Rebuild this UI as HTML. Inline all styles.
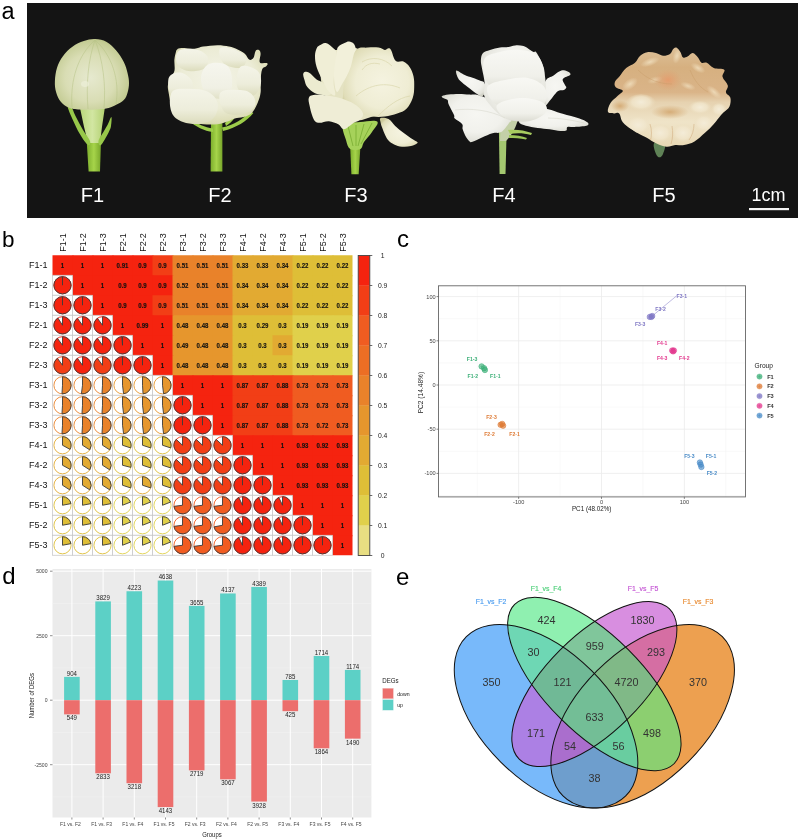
<!DOCTYPE html>
<html><head><meta charset="utf-8"><title>Figure</title>
<style>html,body{margin:0;padding:0;background:#fff;}svg{display:block;}</style></head>
<body><svg width="800" height="840" viewBox="0 0 800 840" font-family='"Liberation Sans", Arial, sans-serif'>
<rect width="800" height="840" fill="#fff"/>
<rect x="27" y="3" width="771" height="215" fill="#141414"/>

<defs>
<radialGradient id="gBud" cx="0.48" cy="0.55" r="0.62">
<stop offset="0" stop-color="#e6e9cf"/><stop offset="0.55" stop-color="#d9ddb4"/><stop offset="0.85" stop-color="#c4cc94"/><stop offset="1" stop-color="#a8b470"/>
</radialGradient>
<linearGradient id="gStem" x1="0" y1="0" x2="1" y2="0">
<stop offset="0" stop-color="#7cae2c"/><stop offset="0.5" stop-color="#a6d44a"/><stop offset="1" stop-color="#78a62a"/>
</linearGradient>
<linearGradient id="gNeck" x1="0" y1="0" x2="1" y2="0">
<stop offset="0" stop-color="#b8d67a"/><stop offset="0.5" stop-color="#d2e6a2"/><stop offset="1" stop-color="#b2d070"/>
</linearGradient>
<radialGradient id="gF2" cx="0.5" cy="0.42" r="0.62">
<stop offset="0" stop-color="#f3f3e6"/><stop offset="0.6" stop-color="#ececd6"/><stop offset="0.9" stop-color="#dcdcb4"/><stop offset="1" stop-color="#c8c896"/>
</radialGradient>
<linearGradient id="gPet" x1="0" y1="0" x2="0" y2="1">
<stop offset="0" stop-color="#f4f4e8"/><stop offset="0.6" stop-color="#ededdb"/><stop offset="1" stop-color="#dcdcbc"/>
</linearGradient>
<linearGradient id="gPet2" x1="0" y1="0" x2="0" y2="1">
<stop offset="0" stop-color="#f6f6ee"/><stop offset="0.7" stop-color="#f0f0e4"/><stop offset="1" stop-color="#e2e2c8"/>
</linearGradient>
<linearGradient id="gPetW" x1="0" y1="0" x2="0" y2="1">
<stop offset="0" stop-color="#f8f8f4"/><stop offset="0.65" stop-color="#f0f0ea"/><stop offset="1" stop-color="#dcdcd2"/>
</linearGradient>
<radialGradient id="gF3" cx="0.55" cy="0.5" r="0.62">
<stop offset="0" stop-color="#f5f3e0"/><stop offset="0.6" stop-color="#efedd4"/><stop offset="0.9" stop-color="#e0ddb8"/><stop offset="1" stop-color="#ccc99a"/>
</radialGradient>
<radialGradient id="gF4" cx="0.5" cy="0.42" r="0.62">
<stop offset="0" stop-color="#f6f6f2"/><stop offset="0.6" stop-color="#f1f1ec"/><stop offset="0.9" stop-color="#e2e2da"/><stop offset="1" stop-color="#cfcfc4"/>
</radialGradient>
<linearGradient id="gF5" x1="0" y1="0" x2="0" y2="1">
<stop offset="0" stop-color="#dcc098"/><stop offset="0.2" stop-color="#d6b080"/><stop offset="0.45" stop-color="#dab488"/><stop offset="0.55" stop-color="#e6d2b0"/><stop offset="0.75" stop-color="#efe4c8"/><stop offset="1" stop-color="#e8d8b4"/>
</linearGradient>
<radialGradient id="gHi" cx="0.5" cy="0.5" r="0.5">
<stop offset="0" stop-color="#f2e2c2" stop-opacity="1"/><stop offset="1" stop-color="#f2e2c2" stop-opacity="0"/>
</radialGradient>
<radialGradient id="gCream" cx="0.5" cy="0.45" r="0.5">
<stop offset="0" stop-color="#f4ecd8" stop-opacity="1"/><stop offset="0.6" stop-color="#f1e6cc" stop-opacity="0.8"/><stop offset="1" stop-color="#eadcbc" stop-opacity="0"/>
</radialGradient>
<radialGradient id="gTan" cx="0.5" cy="0.5" r="0.5">
<stop offset="0" stop-color="#d4aa74" stop-opacity="0.95"/><stop offset="1" stop-color="#d4aa74" stop-opacity="0"/>
</radialGradient>
<radialGradient id="gF5c" cx="0.5" cy="0.5" r="0.5">
<stop offset="0" stop-color="#e89868" stop-opacity="0.8"/><stop offset="1" stop-color="#e0a070" stop-opacity="0"/>
</radialGradient>
</defs>
<!-- F1 -->
<path d="M86.7,141.0 L101.0,141.0 L100.0,171.4 L88.6,171.4 Z" fill="url(#gStem)"/>
<path d="M80.0,108.0 L104.8,108.0 L102.0,126.7 L100.0,143.0 L88.0,143.0 L84.0,126.7 Z" fill="url(#gNeck)"/>
<path d="M67.6,106.6 C67.9,108.9 70.2,114.0 72.4,119.0 C74.6,124.0 77.2,129.6 80.0,134.3 C82.8,139.0 86.2,143.8 88.0,145.0 C89.8,146.2 90.9,143.7 90.0,141.0 C89.1,138.3 85.5,134.3 83.0,130.0 C80.5,125.7 78.2,121.3 76.0,117.0 C73.8,112.7 72.5,107.9 71.0,106.0 C69.5,104.1 67.3,104.3 67.6,106.6 Z" fill="#98c84a"/>
<path d="M111.4,117.0 C111.9,117.4 111.5,123.2 111.0,126.0 C110.5,128.8 110.4,129.0 108.6,132.4 C106.8,135.8 102.8,143.5 101.0,145.0 C99.2,146.5 98.0,143.5 98.5,141.0 C99.0,138.5 102.3,134.1 104.0,131.0 C105.7,127.9 106.7,126.5 108.0,124.0 C109.3,121.5 110.9,116.6 111.4,117.0 Z" fill="#98c84a"/>
<path d="M95.2,39.0 C99.3,39.2 102.9,39.8 106.7,41.9 C110.5,44.0 113.1,46.9 116.2,50.5 C119.3,54.1 121.7,57.8 123.8,61.9 C125.9,66.0 126.7,69.5 127.6,73.3 C128.5,77.1 129.0,79.5 129.0,82.9 C129.0,86.3 128.5,89.3 127.6,92.4 C126.7,95.5 125.9,97.8 123.8,100.0 C121.7,102.2 118.9,103.4 116.2,104.8 C113.5,106.2 112.0,107.2 108.6,108.0 C105.2,108.8 102.6,109.2 97.1,109.5 C91.6,109.8 83.2,109.8 78.1,109.5 C73.0,109.2 71.7,109.0 68.6,107.6 C65.5,106.2 63.2,104.6 61.0,101.9 C58.8,99.2 57.3,96.2 56.2,92.4 C55.1,88.6 54.7,85.5 54.9,81.0 C55.1,76.5 55.7,72.1 57.1,67.6 C58.5,63.1 60.1,60.0 62.9,56.2 C65.7,52.4 68.6,49.4 72.4,46.7 C76.2,44.0 79.7,42.4 83.8,41.0 C87.9,39.6 91.1,38.8 95.2,39.0 Z" fill="url(#gBud)"/>
<g fill="none" stroke="#b4c184" stroke-width="0.7" opacity="0.7">
<path d="M95,40 C88,60 86,85 88,109"/><path d="M95,40 C103,60 106,85 104,108"/>
<path d="M95,40 C78,55 70,80 72,107"/><path d="M95,40 C112,55 120,80 116,104"/>
</g>
<ellipse cx="85" cy="84" rx="4" ry="3" fill="#edf0d8" opacity="0.7"/>
<!-- F2 -->
<path d="M211.0,122.0 L222.4,122.0 L222.4,171.4 L210.6,171.4 Z" fill="url(#gStem)"/>
<path d="M188,120 C196,127 204,131 213,132 L213,128.5 C205,127.5 197,124 191,118 Z" fill="#9ccc4a"/>
<path d="M253.4,113 C247,121 236,128 223,131 L222,127.5 C234,125 244,119 250,111 Z" fill="#9ccc4a"/>
<path d="M237.6,110 C236,118 232,122 226,126 L225,123 C229,120 233,116 235,109 Z" fill="#a4d050"/>
<path d="M177.2,49.5 C178.2,48.7 178.5,48.2 181.6,48.1 C184.7,48.0 190.6,49.1 194.5,48.8 C198.4,48.5 199.0,47.2 203.1,46.6 C207.2,46.0 212.8,45.2 217.5,45.2 C222.2,45.2 225.4,45.8 229.0,46.6 C232.6,47.4 234.8,48.2 237.6,49.5 C240.4,50.8 242.7,52.0 244.8,53.8 C246.9,55.6 247.6,58.8 249.1,59.6 C250.6,60.4 252.2,59.7 253.4,58.1 C254.6,56.5 254.6,52.3 255.6,50.9 C256.6,49.5 258.3,49.7 259.2,50.2 C260.1,50.7 260.5,51.6 260.6,53.8 C260.7,56.0 258.7,60.7 259.9,62.4 C261.1,64.1 265.9,62.6 267.1,63.2 C268.3,63.8 267.3,64.8 266.4,66.0 C265.5,67.2 263.1,66.9 262.1,69.6 C261.1,72.3 260.9,77.0 260.6,81.1 C260.3,85.2 261.1,88.7 260.6,92.6 C260.1,96.5 259.2,99.1 257.7,102.7 C256.2,106.3 254.6,110.1 252.0,112.7 C249.4,115.3 246.5,116.1 243.4,117.1 C240.3,118.1 237.5,117.7 234.7,118.5 C231.9,119.3 230.7,120.4 227.6,121.4 C224.5,122.4 221.9,123.7 217.5,124.2 C213.1,124.7 208.3,124.7 203.1,124.2 C197.9,123.7 193.4,122.9 188.7,121.4 C184.0,119.9 180.3,117.9 177.2,115.6 C174.1,113.3 172.8,111.0 171.5,108.4 C170.2,105.8 170.6,104.0 170.1,101.2 C169.6,98.4 169.0,95.4 168.6,92.6 C168.2,89.8 167.6,88.0 167.9,85.4 C168.2,82.8 168.9,80.8 170.1,78.2 C171.3,75.6 173.6,74.4 174.4,71.1 C175.2,67.8 174.1,63.0 174.4,59.6 C174.7,56.2 175.3,54.2 175.8,52.4 C176.3,50.6 176.2,50.3 177.2,49.5 Z" fill="url(#gF2)"/>
<g fill="url(#gPet)">
<path d="M178.7,50.9 C182.1,48.3 190.7,48.5 195.9,49.5 C201.1,50.5 205.8,53.4 207.4,56.7 C209.0,60.0 208.4,65.4 205.0,68.0 C201.6,70.6 193.7,71.7 188.7,71.0 C183.7,70.3 179.0,67.5 177.2,63.9 C175.4,60.3 175.3,53.5 178.7,50.9 Z"/>
<path d="M220.4,48.1 C223.0,45.9 233.0,48.8 237.6,50.9 C242.2,53.0 245.8,56.5 246.2,59.6 C246.6,62.7 244.1,67.4 240.0,68.0 C235.9,68.6 226.7,66.6 223.2,63.0 C219.7,59.4 217.8,50.3 220.4,48.1 Z"/>
<path d="M168.6,78.2 C169.9,73.8 175.9,72.0 180.1,72.5 C184.3,73.0 190.2,77.0 192.0,81.1 C193.8,85.1 193.4,92.1 190.0,95.0 C186.6,97.9 176.8,100.0 172.9,97.0 C169.0,94.0 167.3,82.6 168.6,78.2 Z"/>
<path d="M240.5,66.7 C244.1,63.7 254.1,67.7 257.7,71.1 C261.3,74.5 261.6,80.9 260.6,85.4 C259.6,89.9 256.1,95.5 252.0,96.0 C247.9,96.5 239.7,93.3 237.6,88.0 C235.5,82.7 236.9,69.7 240.5,66.7 Z"/>
<path d="M209.0,64.0 C213.8,61.8 223.5,62.1 227.6,66.0 C231.7,69.9 232.6,79.6 232.0,85.4 C231.4,91.2 228.4,96.3 224.0,98.0 C219.6,99.7 211.5,98.6 207.4,95.0 C203.3,91.4 200.7,83.6 201.0,78.0 C201.3,72.4 204.2,66.2 209.0,64.0 Z" fill="url(#gPet2)"/>
<path d="M220.4,92.6 C223.2,88.6 234.8,89.7 240.5,90.0 C246.2,90.3 249.4,91.7 252.0,94.5 C254.6,97.3 256.4,102.1 255.0,105.6 C253.6,109.1 249.5,112.8 244.0,114.0 C238.5,115.2 228.9,115.9 224.7,112.0 C220.5,108.1 217.6,96.6 220.4,92.6 Z"/>
<path d="M172.0,92.0 C175.1,87.8 182.3,88.8 188.7,88.7 C195.1,88.6 202.2,89.1 207.4,91.6 C212.6,94.1 216.2,98.2 217.5,102.7 C218.8,107.2 217.2,112.9 214.6,116.6 C212.0,120.3 208.8,122.4 203.1,123.4 C197.4,124.4 188.7,124.0 183.0,121.9 C177.3,119.8 173.5,117.3 171.5,111.9 C169.5,106.5 168.9,96.2 172.0,92.0 Z"/>
</g>
<!-- F3 -->
<path d="M350.2,147.0 L360.4,147.0 L358.7,174.2 L351.4,174.2 Z" fill="url(#gStem)"/>
<path d="M343.5,125.0 C346.0,121.8 353.9,122.6 360.0,122.0 C366.1,121.4 375.1,119.7 377.2,121.5 C379.4,123.3 374.4,128.3 372.0,132.0 C369.6,135.7 366.1,138.9 364.0,142.0 C361.9,145.1 362.9,147.7 360.4,149.0 C357.9,150.3 352.8,150.6 350.2,149.0 C347.7,147.4 347.2,144.3 346.0,140.0 C344.8,135.7 341.0,128.2 343.5,125.0 Z" fill="#a6d25a"/>
<g stroke="#76aa30" stroke-width="0.9" fill="none" opacity="0.85"><path d="M348,126 L353,146"/><path d="M356,125 L356,146"/><path d="M364,124 L358,146"/><path d="M372,123 L361,144"/></g>
<path d="M380.6,118.0 C382.0,117.4 385.9,117.7 388.5,119.1 C391.1,120.5 392.6,123.5 395.2,125.9 C397.9,128.3 400.3,130.4 403.1,132.6 C405.9,134.8 408.6,136.6 411.0,138.2 C413.4,139.9 415.5,140.7 416.6,141.6 C417.7,142.5 418.2,142.5 417.2,143.3 C416.2,144.1 413.7,145.5 411.0,146.1 C408.3,146.7 405.0,147.0 402.0,146.7 C399.0,146.4 396.5,145.5 394.1,144.4 C391.7,143.3 390.1,142.2 388.5,140.5 C386.9,138.8 386.2,137.1 385.1,134.9 C384.0,132.7 383.1,130.3 382.3,128.1 C381.5,125.9 380.9,124.3 380.6,122.5 C380.3,120.7 379.2,118.6 380.6,118.0 Z" fill="url(#gF3)"/>
<path d="M320.0,70.0 L326.0,52.0 L336.0,50.0 L356.0,48.0 L380.0,60.0 L386.0,112.0 L362.0,120.0 L346.0,122.0 L330.0,104.0 L322.0,90.0 Z" fill="#e4e2c2"/>
<path d="M303.4,73.2 C304.2,71.8 306.4,71.3 308.8,72.4 C311.2,73.5 314.1,77.6 316.6,79.4 C319.1,81.2 320.6,80.8 322.8,82.5 C325.0,84.2 327.5,86.8 329.0,88.7 C330.5,90.6 331.0,91.9 331.0,93.0 C331.0,94.1 330.5,94.6 329.0,94.9 C327.5,95.2 325.3,95.2 322.8,94.9 C320.3,94.6 317.8,94.7 315.0,93.3 C312.2,91.9 309.2,89.5 307.3,87.1 C305.4,84.7 305.2,82.5 304.5,80.0 C303.8,77.5 302.6,74.6 303.4,73.2 Z" fill="#ecebd0"/>
<path d="M315.0,56.1 C315.0,52.8 315.8,50.3 316.6,48.4 C317.4,46.5 318.0,46.3 319.7,45.3 C321.4,44.3 323.4,42.4 325.9,43.0 C328.4,43.6 331.7,46.6 333.6,48.4 C335.5,50.2 336.4,49.7 336.7,53.0 C337.0,56.3 335.8,61.7 335.2,67.0 C334.6,72.3 333.6,77.5 333.6,82.5 C333.6,87.5 336.0,93.2 335.2,94.9 C334.4,96.6 331.2,94.3 329.0,91.8 C326.8,89.3 325.0,85.5 322.8,81.0 C320.6,76.5 318.0,71.5 316.6,67.0 C315.2,62.5 315.0,59.4 315.0,56.1 Z" fill="#f0eed6"/>
<path d="M336.7,53.0 C337.5,47.9 336.9,48.6 338.3,46.8 C339.7,45.0 342.6,44.0 344.5,43.0 C346.4,42.0 347.4,41.3 349.1,41.4 C350.8,41.5 352.5,42.2 353.8,43.7 C355.1,45.2 355.5,47.2 356.1,50.0 C356.7,52.8 357.9,55.6 356.9,59.2 C355.9,62.8 353.2,65.9 350.7,70.1 C348.2,74.3 345.5,78.6 343.0,82.5 C340.5,86.4 338.3,93.1 336.7,91.8 C335.1,90.5 334.0,82.0 334.0,75.0 C334.0,68.0 335.9,58.1 336.7,53.0 Z" fill="#f2f0da"/>
<path d="M356.1,50.0 C359.2,46.5 363.6,48.0 367.7,47.6 C371.8,47.2 375.5,47.2 378.6,47.6 C381.7,48.0 383.1,49.9 384.8,50.0 C386.5,50.1 386.8,48.4 387.9,48.4 C389.0,48.4 389.6,47.8 391.0,50.0 C392.4,52.2 393.4,58.7 395.6,60.8 C397.8,62.9 400.9,60.5 403.4,61.6 C405.9,62.7 407.8,64.4 409.6,67.0 C411.4,69.6 412.7,72.7 413.5,76.3 C414.3,79.9 414.3,83.2 414.2,87.1 C414.1,91.0 414.1,94.1 412.7,98.0 C411.3,101.9 409.3,106.0 406.5,108.8 C403.7,111.6 401.1,112.1 397.2,113.5 C393.3,114.9 389.3,116.0 384.8,116.6 C380.3,117.2 376.9,117.2 372.4,116.6 C367.9,116.0 365.0,115.5 360.0,113.5 C355.0,111.5 347.6,109.0 344.5,105.7 C341.4,102.4 343.0,99.1 343.0,94.9 C343.0,90.7 343.1,87.5 344.5,82.5 C345.9,77.5 348.6,72.8 350.7,67.0 C352.8,61.1 353.0,53.5 356.1,50.0 Z" fill="url(#gF3)"/>
<path d="M308.8,98.0 C309.5,96.1 309.9,95.3 313.5,94.9 C317.1,94.5 323.4,94.9 329.0,95.7 C334.6,96.5 339.5,97.7 344.5,99.5 C349.5,101.3 353.6,103.2 356.9,105.7 C360.2,108.2 362.5,111.0 363.1,113.5 C363.7,116.0 361.7,118.0 360.0,119.7 C358.3,121.4 356.0,121.4 353.8,122.8 C351.6,124.2 349.5,126.3 347.6,127.4 C345.7,128.5 344.7,129.6 343.0,129.0 C341.3,128.4 340.8,125.7 338.3,124.3 C335.8,122.9 332.3,121.5 329.0,121.2 C325.7,120.9 322.2,122.8 319.7,122.8 C317.2,122.8 316.4,122.6 315.0,121.2 C313.6,119.8 313.0,117.8 312.0,115.0 C311.0,112.2 310.2,108.8 309.6,105.7 C309.0,102.6 308.1,99.9 308.8,98.0 Z" fill="#efedd6"/>
<g fill="none" stroke="#d8d4a8" stroke-width="0.8" opacity="0.8">
<path d="M356,96 C370,84 386,82 400,88"/><path d="M362,62 C372,56 384,58 392,66"/><path d="M378,116 C388,106 398,98 410,96"/>
<path d="M362,70 C366,64 372,62 380,64"/>
</g>
<!-- F4 -->
<path d="M498.7,118.0 L507.0,118.0 L505.5,174.0 L499.6,174.0 Z" fill="#a4c870"/>
<path d="M503,116 L518,119 C516,128 511,136 506,141 L500,141 C500,132 501,124 503,116 Z" fill="#c4d0a8"/>
<path d="M508,130 C515,129 524,130 532,133 L531,135 C524,133 516,133 510,134 Z" fill="#a8cc60"/>
<path d="M509,135 C516,135 522,136 527,138 L526,139.5 C520,138 514,138 509,138 Z" fill="#9cc458"/>
<path d="M442.2,96.1 C443.2,95.5 445.5,95.0 448.5,94.6 C451.5,94.2 455.1,94.0 458.9,94.0 C462.7,94.0 466.0,94.4 469.4,94.6 C472.8,94.8 474.1,94.1 477.8,95.1 C481.5,96.1 485.1,97.3 490.0,100.0 C494.9,102.7 501.2,106.5 505.0,110.0 C508.8,113.5 510.5,117.4 511.3,119.7 C512.1,122.0 510.1,121.5 509.2,122.8 C508.3,124.1 507.6,125.3 506.1,127.0 C504.6,128.7 503.2,131.2 500.8,132.3 C498.4,133.4 495.9,132.4 492.5,133.3 C489.1,134.2 485.6,136.0 482.0,137.5 C478.4,139.0 474.9,141.0 472.6,141.7 C470.3,142.4 470.7,142.3 469.4,141.2 C468.1,140.1 466.4,137.6 465.2,135.4 C464.0,133.2 463.2,131.2 462.6,129.1 C462.0,127.0 463.5,125.8 462.1,123.9 C460.7,122.0 456.2,120.1 454.8,118.6 C453.4,117.1 454.8,117.0 454.2,115.5 C453.6,114.0 452.6,112.4 451.6,110.3 C450.6,108.2 449.3,105.9 448.5,104.0 C447.7,102.1 448.4,100.9 447.4,99.8 C446.4,98.7 443.6,98.4 442.7,97.7 C441.8,97.0 441.2,96.7 442.2,96.1 Z" fill="url(#gF4)"/>
<path d="M456.3,70.5 C457.4,69.9 461.3,73.4 464.2,74.7 C467.1,76.0 469.6,76.7 472.6,77.8 C475.6,78.9 478.8,80.1 480.9,80.9 C483.0,81.7 483.2,80.9 484.1,82.5 C485.0,84.1 486.4,87.5 486.0,90.0 C485.6,92.5 483.5,95.8 482.0,96.6 C480.5,97.4 480.1,96.1 477.8,94.6 C475.5,93.1 472.2,90.5 469.4,88.3 C466.6,86.1 464.2,84.4 462.1,82.5 C460.0,80.6 458.9,80.0 457.9,77.8 C456.9,75.6 455.2,71.1 456.3,70.5 Z" fill="url(#gF4)"/>
<path d="M547.3,109.0 C550.1,109.6 552.8,110.5 555.6,111.4 C558.4,112.3 559.9,113.0 562.7,113.8 C565.5,114.6 568.1,115.3 571.1,116.1 C574.1,116.9 576.8,117.6 579.4,118.5 C582.0,119.4 583.7,120.0 585.3,120.9 C586.9,121.8 588.1,122.4 588.3,123.3 C588.5,124.2 589.0,125.1 586.5,125.7 C584.0,126.3 578.0,126.7 574.6,126.9 C571.2,127.1 569.0,126.3 567.5,126.9 C566.0,127.5 567.6,129.7 566.3,130.4 C565.0,131.1 563.3,131.2 560.3,131.0 C557.3,130.8 553.7,129.7 549.6,129.2 C545.5,128.7 542.0,128.6 537.7,128.0 C533.4,127.4 529.0,126.5 525.8,125.7 C522.6,124.9 521.2,124.2 519.9,123.3 C518.6,122.4 519.6,121.5 518.7,120.9 C517.8,120.3 513.1,121.3 515.1,119.7 C517.1,118.1 525.5,114.1 530.0,112.0 C534.5,109.9 536.9,108.5 540.0,108.0 C543.1,107.5 544.5,108.4 547.3,109.0 Z" fill="url(#gF4)"/>
<path d="M545.5,81.0 C547.9,76.6 550.7,77.4 553.2,75.7 C555.7,74.0 557.3,72.5 559.2,71.5 C561.1,70.5 562.2,70.2 563.9,70.3 C565.6,70.4 567.5,71.3 568.7,72.1 C569.9,72.9 570.7,73.7 570.5,74.5 C570.3,75.3 568.7,75.7 567.5,76.3 C566.3,76.9 564.8,77.3 563.9,78.1 C563.0,78.9 562.5,79.2 562.7,80.5 C562.9,81.8 564.5,83.9 565.1,85.2 C565.7,86.5 566.5,86.7 566.3,87.6 C566.1,88.5 565.2,89.5 563.9,90.0 C562.6,90.5 560.7,90.0 559.2,90.6 C557.7,91.2 557.1,91.9 555.6,93.5 C554.1,95.1 552.5,97.4 550.8,99.5 C549.1,101.6 547.2,103.9 546.1,105.4 C545.0,106.9 546.0,108.8 544.9,107.8 C543.8,106.8 539.9,104.8 540.0,100.0 C540.1,95.2 543.1,85.4 545.5,81.0 Z" fill="url(#gF4)"/>
<path d="M480.9,60.0 C481.1,57.2 481.4,54.8 483.0,53.0 C484.6,51.2 486.9,51.0 490.0,50.0 C493.1,49.0 496.8,48.0 500.0,47.5 C503.2,47.0 505.3,47.5 508.0,47.1 C510.7,46.7 512.3,45.6 515.1,45.4 C517.9,45.2 520.9,45.3 523.5,46.0 C526.1,46.7 527.6,48.4 529.4,49.5 C531.2,50.6 532.4,51.5 533.6,51.9 C534.8,52.3 534.8,50.6 536.0,51.9 C537.2,53.2 538.7,56.2 540.1,59.0 C541.5,61.8 542.8,64.4 543.7,67.4 C544.6,70.4 544.6,73.3 544.9,75.7 C545.2,78.1 545.3,77.5 545.5,81.0 C545.7,84.5 546.1,90.2 546.0,95.0 C545.9,99.8 546.1,104.4 545.0,107.8 C543.9,111.2 542.7,112.0 540.0,114.0 C537.3,116.0 534.0,117.7 530.0,119.0 C526.0,120.3 521.4,120.8 518.0,121.0 C514.6,121.2 514.2,121.1 511.0,120.0 C507.8,118.9 503.8,117.7 500.0,115.0 C496.2,112.3 492.9,108.6 490.0,105.0 C487.1,101.4 485.0,99.0 484.0,95.0 C483.0,91.0 485.0,87.3 484.6,82.5 C484.2,77.7 482.7,72.5 482.0,68.4 C481.3,64.4 480.7,62.8 480.9,60.0 Z" fill="url(#gF4)"/>
<g fill="url(#gPetW)">
<path d="M484.0,60.0 C486.2,54.2 493.5,53.8 500.0,52.0 C506.5,50.2 513.2,49.3 520.0,50.0 C526.8,50.7 533.7,51.0 538.0,56.0 C542.3,61.0 545.4,72.2 544.0,78.0 C542.6,83.8 537.0,85.8 530.0,88.0 C523.0,90.2 512.6,90.7 505.0,90.0 C497.4,89.3 491.8,89.4 488.0,84.0 C484.2,78.6 481.8,65.8 484.0,60.0 Z"/>
<path d="M488.0,86.0 C490.7,82.8 497.8,81.4 505.0,80.0 C512.2,78.6 520.8,76.6 528.0,78.0 C535.2,79.4 542.1,83.3 545.0,88.0 C547.9,92.7 547.6,100.0 544.0,104.0 C540.4,108.0 532.9,109.6 525.0,110.0 C517.1,110.4 506.3,108.2 500.0,106.0 C493.7,103.8 492.2,101.6 490.0,98.0 C487.8,94.4 485.3,89.2 488.0,86.0 Z"/>
<path d="M498.0,104.0 C501.6,101.1 512.1,98.4 520.0,98.0 C527.9,97.6 537.3,99.5 542.0,102.0 C546.7,104.5 548.2,108.6 546.0,112.0 C543.8,115.4 536.5,119.6 530.0,121.0 C523.5,122.4 515.4,121.3 510.0,120.0 C504.6,118.7 502.2,116.9 500.0,114.0 C497.8,111.1 494.4,106.9 498.0,104.0 Z"/>
</g>
<g fill="none" stroke="#d8d8cc" stroke-width="0.7" opacity="0.8">
<path d="M455,110 C470,108 490,110 505,118"/><path d="M548,118 C560,118 572,120 584,123"/>
</g>
<!-- F5 -->
<path d="M654.2,143.0 C655.8,141.0 663.2,141.0 664.8,143.0 C666.4,145.0 664.0,151.4 663.0,154.0 C662.0,156.6 660.8,157.3 659.5,157.3 C658.2,157.3 657.0,156.6 656.0,154.0 C655.0,151.4 652.6,145.0 654.2,143.0 Z" fill="#5f8256"/>
<clipPath id="cF5"><path d="M607.9,111.8 C607.3,109.9 608.8,105.8 610.5,103.0 C612.2,100.2 615.3,98.2 617.5,96.0 C619.7,93.8 623.1,92.3 622.8,90.8 C622.5,89.2 617.2,88.8 615.8,87.2 C614.3,85.7 614.3,83.9 614.9,82.0 C615.5,80.1 617.2,79.3 619.2,76.8 C621.3,74.2 623.4,70.5 626.2,68.0 C629.1,65.5 632.5,65.0 635.0,62.8 C637.5,60.5 638.0,57.6 640.2,55.8 C642.5,53.9 644.4,52.7 647.2,52.2 C650.1,51.8 653.2,52.5 656.0,53.1 C658.8,53.7 660.5,55.6 663.0,55.8 C665.5,55.9 668.1,55.3 670.0,54.0 C671.9,52.7 672.2,49.8 673.5,48.8 C674.8,47.7 675.7,47.3 677.0,47.9 C678.3,48.5 679.4,50.5 680.5,52.2 C681.6,54.0 681.8,56.7 683.1,57.5 C684.4,58.3 685.8,57.4 687.5,56.6 C689.2,55.8 690.9,52.9 692.8,53.1 C694.6,53.3 696.4,55.8 698.0,57.5 C699.6,59.2 699.9,61.8 701.5,62.8 C703.1,63.7 704.5,61.8 706.8,62.8 C709.0,63.7 710.6,66.7 713.8,68.0 C716.9,69.3 722.7,68.2 724.2,69.8 C725.8,71.3 721.9,73.9 722.5,76.8 C723.1,79.6 727.1,82.7 727.8,85.5 C728.4,88.3 725.5,90.3 726.0,92.5 C726.5,94.7 729.8,95.2 730.4,97.8 C731.0,100.3 730.6,104.0 729.5,106.5 C728.4,109.0 725.8,110.2 724.2,111.8 C722.7,113.3 722.6,113.0 720.8,115.2 C718.9,117.5 716.6,120.8 713.8,124.0 C710.9,127.2 708.5,129.6 705.0,132.8 C701.5,135.9 698.3,139.3 694.5,141.5 C690.7,143.7 687.5,144.4 684.0,145.0 C680.5,145.6 678.4,144.7 675.2,145.0 C672.1,145.3 670.0,147.1 666.5,146.8 C663.0,146.4 659.5,144.8 656.0,143.2 C652.5,141.7 650.1,139.6 647.2,138.0 C644.4,136.4 643.1,136.1 640.2,134.5 C637.4,132.9 634.6,131.5 631.5,129.2 C628.4,127.0 625.0,125.1 622.8,122.2 C620.5,119.4 620.8,115.1 619.2,113.5 C617.7,111.9 616.0,113.8 614.0,113.5 C612.0,113.2 608.5,113.6 607.9,111.8 Z"/></clipPath>
<path d="M607.9,111.8 C607.3,109.9 608.8,105.8 610.5,103.0 C612.2,100.2 615.3,98.2 617.5,96.0 C619.7,93.8 623.1,92.3 622.8,90.8 C622.5,89.2 617.2,88.8 615.8,87.2 C614.3,85.7 614.3,83.9 614.9,82.0 C615.5,80.1 617.2,79.3 619.2,76.8 C621.3,74.2 623.4,70.5 626.2,68.0 C629.1,65.5 632.5,65.0 635.0,62.8 C637.5,60.5 638.0,57.6 640.2,55.8 C642.5,53.9 644.4,52.7 647.2,52.2 C650.1,51.8 653.2,52.5 656.0,53.1 C658.8,53.7 660.5,55.6 663.0,55.8 C665.5,55.9 668.1,55.3 670.0,54.0 C671.9,52.7 672.2,49.8 673.5,48.8 C674.8,47.7 675.7,47.3 677.0,47.9 C678.3,48.5 679.4,50.5 680.5,52.2 C681.6,54.0 681.8,56.7 683.1,57.5 C684.4,58.3 685.8,57.4 687.5,56.6 C689.2,55.8 690.9,52.9 692.8,53.1 C694.6,53.3 696.4,55.8 698.0,57.5 C699.6,59.2 699.9,61.8 701.5,62.8 C703.1,63.7 704.5,61.8 706.8,62.8 C709.0,63.7 710.6,66.7 713.8,68.0 C716.9,69.3 722.7,68.2 724.2,69.8 C725.8,71.3 721.9,73.9 722.5,76.8 C723.1,79.6 727.1,82.7 727.8,85.5 C728.4,88.3 725.5,90.3 726.0,92.5 C726.5,94.7 729.8,95.2 730.4,97.8 C731.0,100.3 730.6,104.0 729.5,106.5 C728.4,109.0 725.8,110.2 724.2,111.8 C722.7,113.3 722.6,113.0 720.8,115.2 C718.9,117.5 716.6,120.8 713.8,124.0 C710.9,127.2 708.5,129.6 705.0,132.8 C701.5,135.9 698.3,139.3 694.5,141.5 C690.7,143.7 687.5,144.4 684.0,145.0 C680.5,145.6 678.4,144.7 675.2,145.0 C672.1,145.3 670.0,147.1 666.5,146.8 C663.0,146.4 659.5,144.8 656.0,143.2 C652.5,141.7 650.1,139.6 647.2,138.0 C644.4,136.4 643.1,136.1 640.2,134.5 C637.4,132.9 634.6,131.5 631.5,129.2 C628.4,127.0 625.0,125.1 622.8,122.2 C620.5,119.4 620.8,115.1 619.2,113.5 C617.7,111.9 616.0,113.8 614.0,113.5 C612.0,113.2 608.5,113.6 607.9,111.8 Z" fill="url(#gF5)"/>
<g clip-path="url(#cF5)">
<ellipse cx="650" cy="62" rx="10" ry="4" transform="rotate(-20 650 62)" fill="url(#gHi)" opacity="0.8"/>
<ellipse cx="677" cy="56" rx="4" ry="8" transform="rotate(15 677 56)" fill="url(#gHi)" opacity="0.8"/>
<ellipse cx="698" cy="68" rx="8" ry="4" transform="rotate(30 698 68)" fill="url(#gHi)" opacity="0.8"/>
<ellipse cx="630" cy="84" rx="9" ry="5" transform="rotate(-35 630 84)" fill="url(#gHi)" opacity="0.8"/>
<ellipse cx="714" cy="92" rx="9" ry="4" transform="rotate(40 714 92)" fill="url(#gHi)" opacity="0.8"/>
<ellipse cx="688" cy="86" rx="8" ry="3.5" transform="rotate(20 688 86)" fill="url(#gHi)" opacity="0.7"/>
<ellipse cx="655" cy="80" rx="8" ry="3.5" transform="rotate(-15 655 80)" fill="url(#gHi)" opacity="0.6"/>
<ellipse cx="641" cy="103" rx="15" ry="9" fill="url(#gCream)"/>
<ellipse cx="620" cy="106" rx="9" ry="6" fill="url(#gTan)"/>
<ellipse cx="670" cy="112" rx="19" ry="7" fill="url(#gTan)"/>
<ellipse cx="700" cy="108" rx="12" ry="7" fill="url(#gCream)"/>
<ellipse cx="638" cy="126" rx="13" ry="10" fill="url(#gCream)"/>
<ellipse cx="660" cy="134" rx="13" ry="10" fill="url(#gCream)"/>
<ellipse cx="683" cy="134" rx="12" ry="10" fill="url(#gCream)"/>
<ellipse cx="704" cy="124" rx="11" ry="9" fill="url(#gCream)"/>
<ellipse cx="719" cy="110" rx="8" ry="7" fill="url(#gCream)"/>
</g>
<ellipse cx="668" cy="80" rx="14" ry="11" fill="url(#gF5c)"/>
</g>
<g fill="none" stroke="#c89c68" stroke-width="0.8" opacity="0.5" clip-path="url(#cF5)">
<path d="M650,124 C652,130 652,136 650,142"/><path d="M672,126 C673,132 673,138 671,144"/><path d="M694,124 C694,130 692,136 689,140"/>
<path d="M638,70 C648,80 660,84 672,84"/><path d="M690,70 C694,80 700,88 708,92"/>
</g>

<text x="1.6" y="18.8" font-size="23.5" fill="#000">a</text>
<text x="92.5" y="202.1" font-size="20" fill="#fff" text-anchor="middle">F1</text>
<text x="220" y="202.1" font-size="20" fill="#fff" text-anchor="middle">F2</text>
<text x="356" y="202.1" font-size="20" fill="#fff" text-anchor="middle">F3</text>
<text x="504" y="202.1" font-size="20" fill="#fff" text-anchor="middle">F4</text>
<text x="664" y="202.1" font-size="20" fill="#fff" text-anchor="middle">F5</text>
<text x="768.5" y="201" font-size="18" fill="#fff" text-anchor="middle">1cm</text>
<rect x="749" y="208" width="40" height="2.2" fill="#f4f4f4"/>
<text x="2" y="246.7" font-size="22.5" fill="#000">b</text>
<text x="47.5" y="268.45" font-size="9" fill="#111" text-anchor="end">F1-1</text>
<text transform="translate(65.70,251.7) rotate(-90)" font-size="9" fill="#111">F1-1</text>
<text x="47.5" y="288.45" font-size="9" fill="#111" text-anchor="end">F1-2</text>
<text transform="translate(85.70,251.7) rotate(-90)" font-size="9" fill="#111">F1-2</text>
<text x="47.5" y="308.45" font-size="9" fill="#111" text-anchor="end">F1-3</text>
<text transform="translate(105.70,251.7) rotate(-90)" font-size="9" fill="#111">F1-3</text>
<text x="47.5" y="328.45" font-size="9" fill="#111" text-anchor="end">F2-1</text>
<text transform="translate(125.70,251.7) rotate(-90)" font-size="9" fill="#111">F2-1</text>
<text x="47.5" y="348.45" font-size="9" fill="#111" text-anchor="end">F2-2</text>
<text transform="translate(145.70,251.7) rotate(-90)" font-size="9" fill="#111">F2-2</text>
<text x="47.5" y="368.45" font-size="9" fill="#111" text-anchor="end">F2-3</text>
<text transform="translate(165.70,251.7) rotate(-90)" font-size="9" fill="#111">F2-3</text>
<text x="47.5" y="388.45" font-size="9" fill="#111" text-anchor="end">F3-1</text>
<text transform="translate(185.70,251.7) rotate(-90)" font-size="9" fill="#111">F3-1</text>
<text x="47.5" y="408.45" font-size="9" fill="#111" text-anchor="end">F3-2</text>
<text transform="translate(205.70,251.7) rotate(-90)" font-size="9" fill="#111">F3-2</text>
<text x="47.5" y="428.45" font-size="9" fill="#111" text-anchor="end">F3-3</text>
<text transform="translate(225.70,251.7) rotate(-90)" font-size="9" fill="#111">F3-3</text>
<text x="47.5" y="448.45" font-size="9" fill="#111" text-anchor="end">F4-1</text>
<text transform="translate(245.70,251.7) rotate(-90)" font-size="9" fill="#111">F4-1</text>
<text x="47.5" y="468.45" font-size="9" fill="#111" text-anchor="end">F4-2</text>
<text transform="translate(265.70,251.7) rotate(-90)" font-size="9" fill="#111">F4-2</text>
<text x="47.5" y="488.45" font-size="9" fill="#111" text-anchor="end">F4-3</text>
<text transform="translate(285.70,251.7) rotate(-90)" font-size="9" fill="#111">F4-3</text>
<text x="47.5" y="508.45" font-size="9" fill="#111" text-anchor="end">F5-1</text>
<text transform="translate(305.70,251.7) rotate(-90)" font-size="9" fill="#111">F5-1</text>
<text x="47.5" y="528.45" font-size="9" fill="#111" text-anchor="end">F5-2</text>
<text transform="translate(325.70,251.7) rotate(-90)" font-size="9" fill="#111">F5-2</text>
<text x="47.5" y="548.45" font-size="9" fill="#111" text-anchor="end">F5-3</text>
<text transform="translate(345.70,251.7) rotate(-90)" font-size="9" fill="#111">F5-3</text>
<rect x="52.50" y="255.25" width="21.00" height="21.00" fill="rgb(245,35,15)"/>
<rect x="72.50" y="255.25" width="21.00" height="21.00" fill="rgb(245,35,15)"/>
<rect x="92.50" y="255.25" width="21.00" height="21.00" fill="rgb(245,35,15)"/>
<rect x="112.50" y="255.25" width="21.00" height="21.00" fill="rgb(245,35,15)"/>
<rect x="132.50" y="255.25" width="21.00" height="21.00" fill="rgb(245,35,15)"/>
<rect x="152.50" y="255.25" width="21.00" height="21.00" fill="rgb(242,62,22)"/>
<rect x="172.50" y="255.25" width="21.00" height="21.00" fill="rgb(233,130,42)"/>
<rect x="192.50" y="255.25" width="21.00" height="21.00" fill="rgb(233,130,42)"/>
<rect x="212.50" y="255.25" width="21.00" height="21.00" fill="rgb(233,130,42)"/>
<rect x="232.50" y="255.25" width="21.00" height="21.00" fill="rgb(226,170,50)"/>
<rect x="252.50" y="255.25" width="21.00" height="21.00" fill="rgb(226,170,50)"/>
<rect x="272.50" y="255.25" width="21.00" height="21.00" fill="rgb(226,170,50)"/>
<rect x="292.50" y="255.25" width="21.00" height="21.00" fill="rgb(222,190,55)"/>
<rect x="312.50" y="255.25" width="21.00" height="21.00" fill="rgb(222,190,55)"/>
<rect x="332.50" y="255.25" width="20.00" height="21.00" fill="rgb(222,190,55)"/>
<rect x="72.50" y="275.25" width="21.00" height="21.00" fill="rgb(245,35,15)"/>
<rect x="92.50" y="275.25" width="21.00" height="21.00" fill="rgb(245,35,15)"/>
<rect x="112.50" y="275.25" width="21.00" height="21.00" fill="rgb(245,35,15)"/>
<rect x="132.50" y="275.25" width="21.00" height="21.00" fill="rgb(245,35,15)"/>
<rect x="152.50" y="275.25" width="21.00" height="21.00" fill="rgb(245,35,15)"/>
<rect x="172.50" y="275.25" width="21.00" height="21.00" fill="rgb(233,130,42)"/>
<rect x="192.50" y="275.25" width="21.00" height="21.00" fill="rgb(233,130,42)"/>
<rect x="212.50" y="275.25" width="21.00" height="21.00" fill="rgb(233,130,42)"/>
<rect x="232.50" y="275.25" width="21.00" height="21.00" fill="rgb(226,170,50)"/>
<rect x="252.50" y="275.25" width="21.00" height="21.00" fill="rgb(226,170,50)"/>
<rect x="272.50" y="275.25" width="21.00" height="21.00" fill="rgb(226,170,50)"/>
<rect x="292.50" y="275.25" width="21.00" height="21.00" fill="rgb(222,190,55)"/>
<rect x="312.50" y="275.25" width="21.00" height="21.00" fill="rgb(222,190,55)"/>
<rect x="332.50" y="275.25" width="20.00" height="21.00" fill="rgb(222,190,55)"/>
<rect x="92.50" y="295.25" width="21.00" height="21.00" fill="rgb(245,35,15)"/>
<rect x="112.50" y="295.25" width="21.00" height="21.00" fill="rgb(245,35,15)"/>
<rect x="132.50" y="295.25" width="21.00" height="21.00" fill="rgb(245,35,15)"/>
<rect x="152.50" y="295.25" width="21.00" height="21.00" fill="rgb(242,62,22)"/>
<rect x="172.50" y="295.25" width="21.00" height="21.00" fill="rgb(233,130,42)"/>
<rect x="192.50" y="295.25" width="21.00" height="21.00" fill="rgb(233,130,42)"/>
<rect x="212.50" y="295.25" width="21.00" height="21.00" fill="rgb(233,130,42)"/>
<rect x="232.50" y="295.25" width="21.00" height="21.00" fill="rgb(226,170,50)"/>
<rect x="252.50" y="295.25" width="21.00" height="21.00" fill="rgb(226,170,50)"/>
<rect x="272.50" y="295.25" width="21.00" height="21.00" fill="rgb(226,170,50)"/>
<rect x="292.50" y="295.25" width="21.00" height="21.00" fill="rgb(222,190,55)"/>
<rect x="312.50" y="295.25" width="21.00" height="21.00" fill="rgb(222,190,55)"/>
<rect x="332.50" y="295.25" width="20.00" height="21.00" fill="rgb(222,190,55)"/>
<rect x="112.50" y="315.25" width="21.00" height="21.00" fill="rgb(245,35,15)"/>
<rect x="132.50" y="315.25" width="21.00" height="21.00" fill="rgb(245,35,15)"/>
<rect x="152.50" y="315.25" width="21.00" height="21.00" fill="rgb(245,35,15)"/>
<rect x="172.50" y="315.25" width="21.00" height="21.00" fill="rgb(230,150,45)"/>
<rect x="192.50" y="315.25" width="21.00" height="21.00" fill="rgb(230,150,45)"/>
<rect x="212.50" y="315.25" width="21.00" height="21.00" fill="rgb(230,150,45)"/>
<rect x="232.50" y="315.25" width="21.00" height="21.00" fill="rgb(222,190,55)"/>
<rect x="252.50" y="315.25" width="21.00" height="21.00" fill="rgb(222,190,55)"/>
<rect x="272.50" y="315.25" width="21.00" height="21.00" fill="rgb(222,190,55)"/>
<rect x="292.50" y="315.25" width="21.00" height="21.00" fill="rgb(224,208,75)"/>
<rect x="312.50" y="315.25" width="21.00" height="21.00" fill="rgb(224,208,75)"/>
<rect x="332.50" y="315.25" width="20.00" height="21.00" fill="rgb(224,208,75)"/>
<rect x="132.50" y="335.25" width="21.00" height="21.00" fill="rgb(245,35,15)"/>
<rect x="152.50" y="335.25" width="21.00" height="21.00" fill="rgb(245,35,15)"/>
<rect x="172.50" y="335.25" width="21.00" height="21.00" fill="rgb(230,150,45)"/>
<rect x="192.50" y="335.25" width="21.00" height="21.00" fill="rgb(230,150,45)"/>
<rect x="212.50" y="335.25" width="21.00" height="21.00" fill="rgb(230,150,45)"/>
<rect x="232.50" y="335.25" width="21.00" height="21.00" fill="rgb(222,190,55)"/>
<rect x="252.50" y="335.25" width="21.00" height="21.00" fill="rgb(222,190,55)"/>
<rect x="272.50" y="335.25" width="21.00" height="21.00" fill="rgb(226,170,50)"/>
<rect x="292.50" y="335.25" width="21.00" height="21.00" fill="rgb(224,208,75)"/>
<rect x="312.50" y="335.25" width="21.00" height="21.00" fill="rgb(224,208,75)"/>
<rect x="332.50" y="335.25" width="20.00" height="21.00" fill="rgb(224,208,75)"/>
<rect x="152.50" y="355.25" width="21.00" height="21.00" fill="rgb(245,35,15)"/>
<rect x="172.50" y="355.25" width="21.00" height="21.00" fill="rgb(230,150,45)"/>
<rect x="192.50" y="355.25" width="21.00" height="21.00" fill="rgb(230,150,45)"/>
<rect x="212.50" y="355.25" width="21.00" height="21.00" fill="rgb(230,150,45)"/>
<rect x="232.50" y="355.25" width="21.00" height="21.00" fill="rgb(222,190,55)"/>
<rect x="252.50" y="355.25" width="21.00" height="21.00" fill="rgb(222,190,55)"/>
<rect x="272.50" y="355.25" width="21.00" height="21.00" fill="rgb(222,190,55)"/>
<rect x="292.50" y="355.25" width="21.00" height="21.00" fill="rgb(224,208,75)"/>
<rect x="312.50" y="355.25" width="21.00" height="21.00" fill="rgb(224,208,75)"/>
<rect x="332.50" y="355.25" width="20.00" height="21.00" fill="rgb(224,208,75)"/>
<rect x="172.50" y="375.25" width="21.00" height="21.00" fill="rgb(245,35,15)"/>
<rect x="192.50" y="375.25" width="21.00" height="21.00" fill="rgb(245,35,15)"/>
<rect x="212.50" y="375.25" width="21.00" height="21.00" fill="rgb(245,35,15)"/>
<rect x="232.50" y="375.25" width="21.00" height="21.00" fill="rgb(242,62,22)"/>
<rect x="252.50" y="375.25" width="21.00" height="21.00" fill="rgb(242,62,22)"/>
<rect x="272.50" y="375.25" width="21.00" height="21.00" fill="rgb(242,62,22)"/>
<rect x="292.50" y="375.25" width="21.00" height="21.00" fill="rgb(240,92,33)"/>
<rect x="312.50" y="375.25" width="21.00" height="21.00" fill="rgb(240,92,33)"/>
<rect x="332.50" y="375.25" width="20.00" height="21.00" fill="rgb(240,92,33)"/>
<rect x="192.50" y="395.25" width="21.00" height="21.00" fill="rgb(245,35,15)"/>
<rect x="212.50" y="395.25" width="21.00" height="21.00" fill="rgb(245,35,15)"/>
<rect x="232.50" y="395.25" width="21.00" height="21.00" fill="rgb(242,62,22)"/>
<rect x="252.50" y="395.25" width="21.00" height="21.00" fill="rgb(242,62,22)"/>
<rect x="272.50" y="395.25" width="21.00" height="21.00" fill="rgb(242,62,22)"/>
<rect x="292.50" y="395.25" width="21.00" height="21.00" fill="rgb(240,92,33)"/>
<rect x="312.50" y="395.25" width="21.00" height="21.00" fill="rgb(240,92,33)"/>
<rect x="332.50" y="395.25" width="20.00" height="21.00" fill="rgb(240,92,33)"/>
<rect x="212.50" y="415.25" width="21.00" height="21.00" fill="rgb(245,35,15)"/>
<rect x="232.50" y="415.25" width="21.00" height="21.00" fill="rgb(242,62,22)"/>
<rect x="252.50" y="415.25" width="21.00" height="21.00" fill="rgb(242,62,22)"/>
<rect x="272.50" y="415.25" width="21.00" height="21.00" fill="rgb(242,62,22)"/>
<rect x="292.50" y="415.25" width="21.00" height="21.00" fill="rgb(240,92,33)"/>
<rect x="312.50" y="415.25" width="21.00" height="21.00" fill="rgb(240,92,33)"/>
<rect x="332.50" y="415.25" width="20.00" height="21.00" fill="rgb(240,92,33)"/>
<rect x="232.50" y="435.25" width="21.00" height="21.00" fill="rgb(245,35,15)"/>
<rect x="252.50" y="435.25" width="21.00" height="21.00" fill="rgb(245,35,15)"/>
<rect x="272.50" y="435.25" width="21.00" height="21.00" fill="rgb(245,35,15)"/>
<rect x="292.50" y="435.25" width="21.00" height="21.00" fill="rgb(245,35,15)"/>
<rect x="312.50" y="435.25" width="21.00" height="21.00" fill="rgb(245,35,15)"/>
<rect x="332.50" y="435.25" width="20.00" height="21.00" fill="rgb(245,35,15)"/>
<rect x="252.50" y="455.25" width="21.00" height="21.00" fill="rgb(245,35,15)"/>
<rect x="272.50" y="455.25" width="21.00" height="21.00" fill="rgb(245,35,15)"/>
<rect x="292.50" y="455.25" width="21.00" height="21.00" fill="rgb(245,35,15)"/>
<rect x="312.50" y="455.25" width="21.00" height="21.00" fill="rgb(245,35,15)"/>
<rect x="332.50" y="455.25" width="20.00" height="21.00" fill="rgb(245,35,15)"/>
<rect x="272.50" y="475.25" width="21.00" height="21.00" fill="rgb(245,35,15)"/>
<rect x="292.50" y="475.25" width="21.00" height="21.00" fill="rgb(245,35,15)"/>
<rect x="312.50" y="475.25" width="21.00" height="21.00" fill="rgb(245,35,15)"/>
<rect x="332.50" y="475.25" width="20.00" height="21.00" fill="rgb(245,35,15)"/>
<rect x="292.50" y="495.25" width="21.00" height="21.00" fill="rgb(245,35,15)"/>
<rect x="312.50" y="495.25" width="21.00" height="21.00" fill="rgb(245,35,15)"/>
<rect x="332.50" y="495.25" width="20.00" height="21.00" fill="rgb(245,35,15)"/>
<rect x="312.50" y="515.25" width="21.00" height="21.00" fill="rgb(245,35,15)"/>
<rect x="332.50" y="515.25" width="20.00" height="21.00" fill="rgb(245,35,15)"/>
<rect x="332.50" y="535.25" width="20.00" height="20.00" fill="rgb(245,35,15)"/>
<rect x="52.50" y="275.25" width="20.00" height="20.00" fill="#fff" stroke="#c4c4c4" stroke-width="0.7"/>
<rect x="52.50" y="295.25" width="20.00" height="20.00" fill="#fff" stroke="#c4c4c4" stroke-width="0.7"/>
<rect x="72.50" y="295.25" width="20.00" height="20.00" fill="#fff" stroke="#c4c4c4" stroke-width="0.7"/>
<rect x="52.50" y="315.25" width="20.00" height="20.00" fill="#fff" stroke="#c4c4c4" stroke-width="0.7"/>
<rect x="72.50" y="315.25" width="20.00" height="20.00" fill="#fff" stroke="#c4c4c4" stroke-width="0.7"/>
<rect x="92.50" y="315.25" width="20.00" height="20.00" fill="#fff" stroke="#c4c4c4" stroke-width="0.7"/>
<rect x="52.50" y="335.25" width="20.00" height="20.00" fill="#fff" stroke="#c4c4c4" stroke-width="0.7"/>
<rect x="72.50" y="335.25" width="20.00" height="20.00" fill="#fff" stroke="#c4c4c4" stroke-width="0.7"/>
<rect x="92.50" y="335.25" width="20.00" height="20.00" fill="#fff" stroke="#c4c4c4" stroke-width="0.7"/>
<rect x="112.50" y="335.25" width="20.00" height="20.00" fill="#fff" stroke="#c4c4c4" stroke-width="0.7"/>
<rect x="52.50" y="355.25" width="20.00" height="20.00" fill="#fff" stroke="#c4c4c4" stroke-width="0.7"/>
<rect x="72.50" y="355.25" width="20.00" height="20.00" fill="#fff" stroke="#c4c4c4" stroke-width="0.7"/>
<rect x="92.50" y="355.25" width="20.00" height="20.00" fill="#fff" stroke="#c4c4c4" stroke-width="0.7"/>
<rect x="112.50" y="355.25" width="20.00" height="20.00" fill="#fff" stroke="#c4c4c4" stroke-width="0.7"/>
<rect x="132.50" y="355.25" width="20.00" height="20.00" fill="#fff" stroke="#c4c4c4" stroke-width="0.7"/>
<rect x="52.50" y="375.25" width="20.00" height="20.00" fill="#fff" stroke="#c4c4c4" stroke-width="0.7"/>
<rect x="72.50" y="375.25" width="20.00" height="20.00" fill="#fff" stroke="#c4c4c4" stroke-width="0.7"/>
<rect x="92.50" y="375.25" width="20.00" height="20.00" fill="#fff" stroke="#c4c4c4" stroke-width="0.7"/>
<rect x="112.50" y="375.25" width="20.00" height="20.00" fill="#fff" stroke="#c4c4c4" stroke-width="0.7"/>
<rect x="132.50" y="375.25" width="20.00" height="20.00" fill="#fff" stroke="#c4c4c4" stroke-width="0.7"/>
<rect x="152.50" y="375.25" width="20.00" height="20.00" fill="#fff" stroke="#c4c4c4" stroke-width="0.7"/>
<rect x="52.50" y="395.25" width="20.00" height="20.00" fill="#fff" stroke="#c4c4c4" stroke-width="0.7"/>
<rect x="72.50" y="395.25" width="20.00" height="20.00" fill="#fff" stroke="#c4c4c4" stroke-width="0.7"/>
<rect x="92.50" y="395.25" width="20.00" height="20.00" fill="#fff" stroke="#c4c4c4" stroke-width="0.7"/>
<rect x="112.50" y="395.25" width="20.00" height="20.00" fill="#fff" stroke="#c4c4c4" stroke-width="0.7"/>
<rect x="132.50" y="395.25" width="20.00" height="20.00" fill="#fff" stroke="#c4c4c4" stroke-width="0.7"/>
<rect x="152.50" y="395.25" width="20.00" height="20.00" fill="#fff" stroke="#c4c4c4" stroke-width="0.7"/>
<rect x="172.50" y="395.25" width="20.00" height="20.00" fill="#fff" stroke="#c4c4c4" stroke-width="0.7"/>
<rect x="52.50" y="415.25" width="20.00" height="20.00" fill="#fff" stroke="#c4c4c4" stroke-width="0.7"/>
<rect x="72.50" y="415.25" width="20.00" height="20.00" fill="#fff" stroke="#c4c4c4" stroke-width="0.7"/>
<rect x="92.50" y="415.25" width="20.00" height="20.00" fill="#fff" stroke="#c4c4c4" stroke-width="0.7"/>
<rect x="112.50" y="415.25" width="20.00" height="20.00" fill="#fff" stroke="#c4c4c4" stroke-width="0.7"/>
<rect x="132.50" y="415.25" width="20.00" height="20.00" fill="#fff" stroke="#c4c4c4" stroke-width="0.7"/>
<rect x="152.50" y="415.25" width="20.00" height="20.00" fill="#fff" stroke="#c4c4c4" stroke-width="0.7"/>
<rect x="172.50" y="415.25" width="20.00" height="20.00" fill="#fff" stroke="#c4c4c4" stroke-width="0.7"/>
<rect x="192.50" y="415.25" width="20.00" height="20.00" fill="#fff" stroke="#c4c4c4" stroke-width="0.7"/>
<rect x="52.50" y="435.25" width="20.00" height="20.00" fill="#fff" stroke="#c4c4c4" stroke-width="0.7"/>
<rect x="72.50" y="435.25" width="20.00" height="20.00" fill="#fff" stroke="#c4c4c4" stroke-width="0.7"/>
<rect x="92.50" y="435.25" width="20.00" height="20.00" fill="#fff" stroke="#c4c4c4" stroke-width="0.7"/>
<rect x="112.50" y="435.25" width="20.00" height="20.00" fill="#fff" stroke="#c4c4c4" stroke-width="0.7"/>
<rect x="132.50" y="435.25" width="20.00" height="20.00" fill="#fff" stroke="#c4c4c4" stroke-width="0.7"/>
<rect x="152.50" y="435.25" width="20.00" height="20.00" fill="#fff" stroke="#c4c4c4" stroke-width="0.7"/>
<rect x="172.50" y="435.25" width="20.00" height="20.00" fill="#fff" stroke="#c4c4c4" stroke-width="0.7"/>
<rect x="192.50" y="435.25" width="20.00" height="20.00" fill="#fff" stroke="#c4c4c4" stroke-width="0.7"/>
<rect x="212.50" y="435.25" width="20.00" height="20.00" fill="#fff" stroke="#c4c4c4" stroke-width="0.7"/>
<rect x="52.50" y="455.25" width="20.00" height="20.00" fill="#fff" stroke="#c4c4c4" stroke-width="0.7"/>
<rect x="72.50" y="455.25" width="20.00" height="20.00" fill="#fff" stroke="#c4c4c4" stroke-width="0.7"/>
<rect x="92.50" y="455.25" width="20.00" height="20.00" fill="#fff" stroke="#c4c4c4" stroke-width="0.7"/>
<rect x="112.50" y="455.25" width="20.00" height="20.00" fill="#fff" stroke="#c4c4c4" stroke-width="0.7"/>
<rect x="132.50" y="455.25" width="20.00" height="20.00" fill="#fff" stroke="#c4c4c4" stroke-width="0.7"/>
<rect x="152.50" y="455.25" width="20.00" height="20.00" fill="#fff" stroke="#c4c4c4" stroke-width="0.7"/>
<rect x="172.50" y="455.25" width="20.00" height="20.00" fill="#fff" stroke="#c4c4c4" stroke-width="0.7"/>
<rect x="192.50" y="455.25" width="20.00" height="20.00" fill="#fff" stroke="#c4c4c4" stroke-width="0.7"/>
<rect x="212.50" y="455.25" width="20.00" height="20.00" fill="#fff" stroke="#c4c4c4" stroke-width="0.7"/>
<rect x="232.50" y="455.25" width="20.00" height="20.00" fill="#fff" stroke="#c4c4c4" stroke-width="0.7"/>
<rect x="52.50" y="475.25" width="20.00" height="20.00" fill="#fff" stroke="#c4c4c4" stroke-width="0.7"/>
<rect x="72.50" y="475.25" width="20.00" height="20.00" fill="#fff" stroke="#c4c4c4" stroke-width="0.7"/>
<rect x="92.50" y="475.25" width="20.00" height="20.00" fill="#fff" stroke="#c4c4c4" stroke-width="0.7"/>
<rect x="112.50" y="475.25" width="20.00" height="20.00" fill="#fff" stroke="#c4c4c4" stroke-width="0.7"/>
<rect x="132.50" y="475.25" width="20.00" height="20.00" fill="#fff" stroke="#c4c4c4" stroke-width="0.7"/>
<rect x="152.50" y="475.25" width="20.00" height="20.00" fill="#fff" stroke="#c4c4c4" stroke-width="0.7"/>
<rect x="172.50" y="475.25" width="20.00" height="20.00" fill="#fff" stroke="#c4c4c4" stroke-width="0.7"/>
<rect x="192.50" y="475.25" width="20.00" height="20.00" fill="#fff" stroke="#c4c4c4" stroke-width="0.7"/>
<rect x="212.50" y="475.25" width="20.00" height="20.00" fill="#fff" stroke="#c4c4c4" stroke-width="0.7"/>
<rect x="232.50" y="475.25" width="20.00" height="20.00" fill="#fff" stroke="#c4c4c4" stroke-width="0.7"/>
<rect x="252.50" y="475.25" width="20.00" height="20.00" fill="#fff" stroke="#c4c4c4" stroke-width="0.7"/>
<rect x="52.50" y="495.25" width="20.00" height="20.00" fill="#fff" stroke="#c4c4c4" stroke-width="0.7"/>
<rect x="72.50" y="495.25" width="20.00" height="20.00" fill="#fff" stroke="#c4c4c4" stroke-width="0.7"/>
<rect x="92.50" y="495.25" width="20.00" height="20.00" fill="#fff" stroke="#c4c4c4" stroke-width="0.7"/>
<rect x="112.50" y="495.25" width="20.00" height="20.00" fill="#fff" stroke="#c4c4c4" stroke-width="0.7"/>
<rect x="132.50" y="495.25" width="20.00" height="20.00" fill="#fff" stroke="#c4c4c4" stroke-width="0.7"/>
<rect x="152.50" y="495.25" width="20.00" height="20.00" fill="#fff" stroke="#c4c4c4" stroke-width="0.7"/>
<rect x="172.50" y="495.25" width="20.00" height="20.00" fill="#fff" stroke="#c4c4c4" stroke-width="0.7"/>
<rect x="192.50" y="495.25" width="20.00" height="20.00" fill="#fff" stroke="#c4c4c4" stroke-width="0.7"/>
<rect x="212.50" y="495.25" width="20.00" height="20.00" fill="#fff" stroke="#c4c4c4" stroke-width="0.7"/>
<rect x="232.50" y="495.25" width="20.00" height="20.00" fill="#fff" stroke="#c4c4c4" stroke-width="0.7"/>
<rect x="252.50" y="495.25" width="20.00" height="20.00" fill="#fff" stroke="#c4c4c4" stroke-width="0.7"/>
<rect x="272.50" y="495.25" width="20.00" height="20.00" fill="#fff" stroke="#c4c4c4" stroke-width="0.7"/>
<rect x="52.50" y="515.25" width="20.00" height="20.00" fill="#fff" stroke="#c4c4c4" stroke-width="0.7"/>
<rect x="72.50" y="515.25" width="20.00" height="20.00" fill="#fff" stroke="#c4c4c4" stroke-width="0.7"/>
<rect x="92.50" y="515.25" width="20.00" height="20.00" fill="#fff" stroke="#c4c4c4" stroke-width="0.7"/>
<rect x="112.50" y="515.25" width="20.00" height="20.00" fill="#fff" stroke="#c4c4c4" stroke-width="0.7"/>
<rect x="132.50" y="515.25" width="20.00" height="20.00" fill="#fff" stroke="#c4c4c4" stroke-width="0.7"/>
<rect x="152.50" y="515.25" width="20.00" height="20.00" fill="#fff" stroke="#c4c4c4" stroke-width="0.7"/>
<rect x="172.50" y="515.25" width="20.00" height="20.00" fill="#fff" stroke="#c4c4c4" stroke-width="0.7"/>
<rect x="192.50" y="515.25" width="20.00" height="20.00" fill="#fff" stroke="#c4c4c4" stroke-width="0.7"/>
<rect x="212.50" y="515.25" width="20.00" height="20.00" fill="#fff" stroke="#c4c4c4" stroke-width="0.7"/>
<rect x="232.50" y="515.25" width="20.00" height="20.00" fill="#fff" stroke="#c4c4c4" stroke-width="0.7"/>
<rect x="252.50" y="515.25" width="20.00" height="20.00" fill="#fff" stroke="#c4c4c4" stroke-width="0.7"/>
<rect x="272.50" y="515.25" width="20.00" height="20.00" fill="#fff" stroke="#c4c4c4" stroke-width="0.7"/>
<rect x="292.50" y="515.25" width="20.00" height="20.00" fill="#fff" stroke="#c4c4c4" stroke-width="0.7"/>
<rect x="52.50" y="535.25" width="20.00" height="20.00" fill="#fff" stroke="#c4c4c4" stroke-width="0.7"/>
<rect x="72.50" y="535.25" width="20.00" height="20.00" fill="#fff" stroke="#c4c4c4" stroke-width="0.7"/>
<rect x="92.50" y="535.25" width="20.00" height="20.00" fill="#fff" stroke="#c4c4c4" stroke-width="0.7"/>
<rect x="112.50" y="535.25" width="20.00" height="20.00" fill="#fff" stroke="#c4c4c4" stroke-width="0.7"/>
<rect x="132.50" y="535.25" width="20.00" height="20.00" fill="#fff" stroke="#c4c4c4" stroke-width="0.7"/>
<rect x="152.50" y="535.25" width="20.00" height="20.00" fill="#fff" stroke="#c4c4c4" stroke-width="0.7"/>
<rect x="172.50" y="535.25" width="20.00" height="20.00" fill="#fff" stroke="#c4c4c4" stroke-width="0.7"/>
<rect x="192.50" y="535.25" width="20.00" height="20.00" fill="#fff" stroke="#c4c4c4" stroke-width="0.7"/>
<rect x="212.50" y="535.25" width="20.00" height="20.00" fill="#fff" stroke="#c4c4c4" stroke-width="0.7"/>
<rect x="232.50" y="535.25" width="20.00" height="20.00" fill="#fff" stroke="#c4c4c4" stroke-width="0.7"/>
<rect x="252.50" y="535.25" width="20.00" height="20.00" fill="#fff" stroke="#c4c4c4" stroke-width="0.7"/>
<rect x="272.50" y="535.25" width="20.00" height="20.00" fill="#fff" stroke="#c4c4c4" stroke-width="0.7"/>
<rect x="292.50" y="535.25" width="20.00" height="20.00" fill="#fff" stroke="#c4c4c4" stroke-width="0.7"/>
<rect x="312.50" y="535.25" width="20.00" height="20.00" fill="#fff" stroke="#c4c4c4" stroke-width="0.7"/>
<text transform="translate(62.50,268.25) scale(0.92,1)" font-size="6.6" font-weight="bold" fill="#111" stroke="#111" stroke-width="0.12" text-anchor="middle">1</text>
<text transform="translate(82.50,268.25) scale(0.92,1)" font-size="6.6" font-weight="bold" fill="#111" stroke="#111" stroke-width="0.12" text-anchor="middle">1</text>
<text transform="translate(102.50,268.25) scale(0.92,1)" font-size="6.6" font-weight="bold" fill="#111" stroke="#111" stroke-width="0.12" text-anchor="middle">1</text>
<text transform="translate(122.50,268.25) scale(0.92,1)" font-size="6.6" font-weight="bold" fill="#111" stroke="#111" stroke-width="0.12" text-anchor="middle">0.91</text>
<text transform="translate(142.50,268.25) scale(0.92,1)" font-size="6.6" font-weight="bold" fill="#111" stroke="#111" stroke-width="0.12" text-anchor="middle">0.9</text>
<text transform="translate(162.50,268.25) scale(0.92,1)" font-size="6.6" font-weight="bold" fill="#111" stroke="#111" stroke-width="0.12" text-anchor="middle">0.9</text>
<text transform="translate(182.50,268.25) scale(0.92,1)" font-size="6.6" font-weight="bold" fill="#111" stroke="#111" stroke-width="0.12" text-anchor="middle">0.51</text>
<text transform="translate(202.50,268.25) scale(0.92,1)" font-size="6.6" font-weight="bold" fill="#111" stroke="#111" stroke-width="0.12" text-anchor="middle">0.51</text>
<text transform="translate(222.50,268.25) scale(0.92,1)" font-size="6.6" font-weight="bold" fill="#111" stroke="#111" stroke-width="0.12" text-anchor="middle">0.51</text>
<text transform="translate(242.50,268.25) scale(0.92,1)" font-size="6.6" font-weight="bold" fill="#111" stroke="#111" stroke-width="0.12" text-anchor="middle">0.33</text>
<text transform="translate(262.50,268.25) scale(0.92,1)" font-size="6.6" font-weight="bold" fill="#111" stroke="#111" stroke-width="0.12" text-anchor="middle">0.33</text>
<text transform="translate(282.50,268.25) scale(0.92,1)" font-size="6.6" font-weight="bold" fill="#111" stroke="#111" stroke-width="0.12" text-anchor="middle">0.34</text>
<text transform="translate(302.50,268.25) scale(0.92,1)" font-size="6.6" font-weight="bold" fill="#111" stroke="#111" stroke-width="0.12" text-anchor="middle">0.22</text>
<text transform="translate(322.50,268.25) scale(0.92,1)" font-size="6.6" font-weight="bold" fill="#111" stroke="#111" stroke-width="0.12" text-anchor="middle">0.22</text>
<text transform="translate(342.50,268.25) scale(0.92,1)" font-size="6.6" font-weight="bold" fill="#111" stroke="#111" stroke-width="0.12" text-anchor="middle">0.22</text>
<circle cx="62.50" cy="285.25" r="8.6" fill="none" stroke="rgb(245,35,15)" stroke-width="0.9"/>
<circle cx="62.50" cy="285.25" r="8.6" fill="rgb(245,35,15)" stroke="#3a3a3a" stroke-width="0.9"/>
<line x1="62.50" y1="285.25" x2="62.50" y2="276.65" stroke="#3a3a3a" stroke-width="0.9"/>
<text transform="translate(82.50,288.25) scale(0.92,1)" font-size="6.6" font-weight="bold" fill="#111" stroke="#111" stroke-width="0.12" text-anchor="middle">1</text>
<text transform="translate(102.50,288.25) scale(0.92,1)" font-size="6.6" font-weight="bold" fill="#111" stroke="#111" stroke-width="0.12" text-anchor="middle">1</text>
<text transform="translate(122.50,288.25) scale(0.92,1)" font-size="6.6" font-weight="bold" fill="#111" stroke="#111" stroke-width="0.12" text-anchor="middle">0.9</text>
<text transform="translate(142.50,288.25) scale(0.92,1)" font-size="6.6" font-weight="bold" fill="#111" stroke="#111" stroke-width="0.12" text-anchor="middle">0.9</text>
<text transform="translate(162.50,288.25) scale(0.92,1)" font-size="6.6" font-weight="bold" fill="#111" stroke="#111" stroke-width="0.12" text-anchor="middle">0.9</text>
<text transform="translate(182.50,288.25) scale(0.92,1)" font-size="6.6" font-weight="bold" fill="#111" stroke="#111" stroke-width="0.12" text-anchor="middle">0.52</text>
<text transform="translate(202.50,288.25) scale(0.92,1)" font-size="6.6" font-weight="bold" fill="#111" stroke="#111" stroke-width="0.12" text-anchor="middle">0.51</text>
<text transform="translate(222.50,288.25) scale(0.92,1)" font-size="6.6" font-weight="bold" fill="#111" stroke="#111" stroke-width="0.12" text-anchor="middle">0.51</text>
<text transform="translate(242.50,288.25) scale(0.92,1)" font-size="6.6" font-weight="bold" fill="#111" stroke="#111" stroke-width="0.12" text-anchor="middle">0.34</text>
<text transform="translate(262.50,288.25) scale(0.92,1)" font-size="6.6" font-weight="bold" fill="#111" stroke="#111" stroke-width="0.12" text-anchor="middle">0.34</text>
<text transform="translate(282.50,288.25) scale(0.92,1)" font-size="6.6" font-weight="bold" fill="#111" stroke="#111" stroke-width="0.12" text-anchor="middle">0.34</text>
<text transform="translate(302.50,288.25) scale(0.92,1)" font-size="6.6" font-weight="bold" fill="#111" stroke="#111" stroke-width="0.12" text-anchor="middle">0.22</text>
<text transform="translate(322.50,288.25) scale(0.92,1)" font-size="6.6" font-weight="bold" fill="#111" stroke="#111" stroke-width="0.12" text-anchor="middle">0.22</text>
<text transform="translate(342.50,288.25) scale(0.92,1)" font-size="6.6" font-weight="bold" fill="#111" stroke="#111" stroke-width="0.12" text-anchor="middle">0.22</text>
<circle cx="62.50" cy="305.25" r="8.6" fill="none" stroke="rgb(245,35,15)" stroke-width="0.9"/>
<circle cx="62.50" cy="305.25" r="8.6" fill="rgb(245,35,15)" stroke="#3a3a3a" stroke-width="0.9"/>
<line x1="62.50" y1="305.25" x2="62.50" y2="296.65" stroke="#3a3a3a" stroke-width="0.9"/>
<circle cx="82.50" cy="305.25" r="8.6" fill="none" stroke="rgb(245,35,15)" stroke-width="0.9"/>
<circle cx="82.50" cy="305.25" r="8.6" fill="rgb(245,35,15)" stroke="#3a3a3a" stroke-width="0.9"/>
<line x1="82.50" y1="305.25" x2="82.50" y2="296.65" stroke="#3a3a3a" stroke-width="0.9"/>
<text transform="translate(102.50,308.25) scale(0.92,1)" font-size="6.6" font-weight="bold" fill="#111" stroke="#111" stroke-width="0.12" text-anchor="middle">1</text>
<text transform="translate(122.50,308.25) scale(0.92,1)" font-size="6.6" font-weight="bold" fill="#111" stroke="#111" stroke-width="0.12" text-anchor="middle">0.9</text>
<text transform="translate(142.50,308.25) scale(0.92,1)" font-size="6.6" font-weight="bold" fill="#111" stroke="#111" stroke-width="0.12" text-anchor="middle">0.9</text>
<text transform="translate(162.50,308.25) scale(0.92,1)" font-size="6.6" font-weight="bold" fill="#111" stroke="#111" stroke-width="0.12" text-anchor="middle">0.9</text>
<text transform="translate(182.50,308.25) scale(0.92,1)" font-size="6.6" font-weight="bold" fill="#111" stroke="#111" stroke-width="0.12" text-anchor="middle">0.51</text>
<text transform="translate(202.50,308.25) scale(0.92,1)" font-size="6.6" font-weight="bold" fill="#111" stroke="#111" stroke-width="0.12" text-anchor="middle">0.51</text>
<text transform="translate(222.50,308.25) scale(0.92,1)" font-size="6.6" font-weight="bold" fill="#111" stroke="#111" stroke-width="0.12" text-anchor="middle">0.51</text>
<text transform="translate(242.50,308.25) scale(0.92,1)" font-size="6.6" font-weight="bold" fill="#111" stroke="#111" stroke-width="0.12" text-anchor="middle">0.34</text>
<text transform="translate(262.50,308.25) scale(0.92,1)" font-size="6.6" font-weight="bold" fill="#111" stroke="#111" stroke-width="0.12" text-anchor="middle">0.34</text>
<text transform="translate(282.50,308.25) scale(0.92,1)" font-size="6.6" font-weight="bold" fill="#111" stroke="#111" stroke-width="0.12" text-anchor="middle">0.34</text>
<text transform="translate(302.50,308.25) scale(0.92,1)" font-size="6.6" font-weight="bold" fill="#111" stroke="#111" stroke-width="0.12" text-anchor="middle">0.22</text>
<text transform="translate(322.50,308.25) scale(0.92,1)" font-size="6.6" font-weight="bold" fill="#111" stroke="#111" stroke-width="0.12" text-anchor="middle">0.22</text>
<text transform="translate(342.50,308.25) scale(0.92,1)" font-size="6.6" font-weight="bold" fill="#111" stroke="#111" stroke-width="0.12" text-anchor="middle">0.22</text>
<circle cx="62.50" cy="325.25" r="8.6" fill="none" stroke="rgb(245,35,15)" stroke-width="0.9"/>
<path d="M62.50,325.25 L62.50,316.65 A8.6,8.6 0 1 1 57.89,317.99 Z" fill="rgb(245,35,15)" stroke="#3a3a3a" stroke-width="0.9" stroke-linejoin="round"/>
<circle cx="82.50" cy="325.25" r="8.6" fill="none" stroke="rgb(245,35,15)" stroke-width="0.9"/>
<path d="M82.50,325.25 L82.50,316.65 A8.6,8.6 0 1 1 77.45,318.29 Z" fill="rgb(245,35,15)" stroke="#3a3a3a" stroke-width="0.9" stroke-linejoin="round"/>
<circle cx="102.50" cy="325.25" r="8.6" fill="none" stroke="rgb(245,35,15)" stroke-width="0.9"/>
<path d="M102.50,325.25 L102.50,316.65 A8.6,8.6 0 1 1 97.45,318.29 Z" fill="rgb(245,35,15)" stroke="#3a3a3a" stroke-width="0.9" stroke-linejoin="round"/>
<text transform="translate(122.50,328.25) scale(0.92,1)" font-size="6.6" font-weight="bold" fill="#111" stroke="#111" stroke-width="0.12" text-anchor="middle">1</text>
<text transform="translate(142.50,328.25) scale(0.92,1)" font-size="6.6" font-weight="bold" fill="#111" stroke="#111" stroke-width="0.12" text-anchor="middle">0.99</text>
<text transform="translate(162.50,328.25) scale(0.92,1)" font-size="6.6" font-weight="bold" fill="#111" stroke="#111" stroke-width="0.12" text-anchor="middle">1</text>
<text transform="translate(182.50,328.25) scale(0.92,1)" font-size="6.6" font-weight="bold" fill="#111" stroke="#111" stroke-width="0.12" text-anchor="middle">0.48</text>
<text transform="translate(202.50,328.25) scale(0.92,1)" font-size="6.6" font-weight="bold" fill="#111" stroke="#111" stroke-width="0.12" text-anchor="middle">0.48</text>
<text transform="translate(222.50,328.25) scale(0.92,1)" font-size="6.6" font-weight="bold" fill="#111" stroke="#111" stroke-width="0.12" text-anchor="middle">0.48</text>
<text transform="translate(242.50,328.25) scale(0.92,1)" font-size="6.6" font-weight="bold" fill="#111" stroke="#111" stroke-width="0.12" text-anchor="middle">0.3</text>
<text transform="translate(262.50,328.25) scale(0.92,1)" font-size="6.6" font-weight="bold" fill="#111" stroke="#111" stroke-width="0.12" text-anchor="middle">0.29</text>
<text transform="translate(282.50,328.25) scale(0.92,1)" font-size="6.6" font-weight="bold" fill="#111" stroke="#111" stroke-width="0.12" text-anchor="middle">0.3</text>
<text transform="translate(302.50,328.25) scale(0.92,1)" font-size="6.6" font-weight="bold" fill="#111" stroke="#111" stroke-width="0.12" text-anchor="middle">0.19</text>
<text transform="translate(322.50,328.25) scale(0.92,1)" font-size="6.6" font-weight="bold" fill="#111" stroke="#111" stroke-width="0.12" text-anchor="middle">0.19</text>
<text transform="translate(342.50,328.25) scale(0.92,1)" font-size="6.6" font-weight="bold" fill="#111" stroke="#111" stroke-width="0.12" text-anchor="middle">0.19</text>
<circle cx="62.50" cy="345.25" r="8.6" fill="none" stroke="rgb(245,35,15)" stroke-width="0.9"/>
<path d="M62.50,345.25 L62.50,336.65 A8.6,8.6 0 1 1 57.45,338.29 Z" fill="rgb(245,35,15)" stroke="#3a3a3a" stroke-width="0.9" stroke-linejoin="round"/>
<circle cx="82.50" cy="345.25" r="8.6" fill="none" stroke="rgb(245,35,15)" stroke-width="0.9"/>
<path d="M82.50,345.25 L82.50,336.65 A8.6,8.6 0 1 1 77.45,338.29 Z" fill="rgb(245,35,15)" stroke="#3a3a3a" stroke-width="0.9" stroke-linejoin="round"/>
<circle cx="102.50" cy="345.25" r="8.6" fill="none" stroke="rgb(245,35,15)" stroke-width="0.9"/>
<path d="M102.50,345.25 L102.50,336.65 A8.6,8.6 0 1 1 97.45,338.29 Z" fill="rgb(245,35,15)" stroke="#3a3a3a" stroke-width="0.9" stroke-linejoin="round"/>
<circle cx="122.50" cy="345.25" r="8.6" fill="none" stroke="rgb(245,35,15)" stroke-width="0.9"/>
<path d="M122.50,345.25 L122.50,336.65 A8.6,8.6 0 1 1 121.96,336.67 Z" fill="rgb(245,35,15)" stroke="#3a3a3a" stroke-width="0.9" stroke-linejoin="round"/>
<text transform="translate(142.50,348.25) scale(0.92,1)" font-size="6.6" font-weight="bold" fill="#111" stroke="#111" stroke-width="0.12" text-anchor="middle">1</text>
<text transform="translate(162.50,348.25) scale(0.92,1)" font-size="6.6" font-weight="bold" fill="#111" stroke="#111" stroke-width="0.12" text-anchor="middle">1</text>
<text transform="translate(182.50,348.25) scale(0.92,1)" font-size="6.6" font-weight="bold" fill="#111" stroke="#111" stroke-width="0.12" text-anchor="middle">0.49</text>
<text transform="translate(202.50,348.25) scale(0.92,1)" font-size="6.6" font-weight="bold" fill="#111" stroke="#111" stroke-width="0.12" text-anchor="middle">0.48</text>
<text transform="translate(222.50,348.25) scale(0.92,1)" font-size="6.6" font-weight="bold" fill="#111" stroke="#111" stroke-width="0.12" text-anchor="middle">0.48</text>
<text transform="translate(242.50,348.25) scale(0.92,1)" font-size="6.6" font-weight="bold" fill="#111" stroke="#111" stroke-width="0.12" text-anchor="middle">0.3</text>
<text transform="translate(262.50,348.25) scale(0.92,1)" font-size="6.6" font-weight="bold" fill="#111" stroke="#111" stroke-width="0.12" text-anchor="middle">0.3</text>
<text transform="translate(282.50,348.25) scale(0.92,1)" font-size="6.6" font-weight="bold" fill="#111" stroke="#111" stroke-width="0.12" text-anchor="middle">0.3</text>
<text transform="translate(302.50,348.25) scale(0.92,1)" font-size="6.6" font-weight="bold" fill="#111" stroke="#111" stroke-width="0.12" text-anchor="middle">0.19</text>
<text transform="translate(322.50,348.25) scale(0.92,1)" font-size="6.6" font-weight="bold" fill="#111" stroke="#111" stroke-width="0.12" text-anchor="middle">0.19</text>
<text transform="translate(342.50,348.25) scale(0.92,1)" font-size="6.6" font-weight="bold" fill="#111" stroke="#111" stroke-width="0.12" text-anchor="middle">0.19</text>
<circle cx="62.50" cy="365.25" r="8.6" fill="none" stroke="rgb(242,62,22)" stroke-width="0.9"/>
<path d="M62.50,365.25 L62.50,356.65 A8.6,8.6 0 1 1 57.45,358.29 Z" fill="rgb(242,62,22)" stroke="#3a3a3a" stroke-width="0.9" stroke-linejoin="round"/>
<circle cx="82.50" cy="365.25" r="8.6" fill="none" stroke="rgb(245,35,15)" stroke-width="0.9"/>
<path d="M82.50,365.25 L82.50,356.65 A8.6,8.6 0 1 1 77.45,358.29 Z" fill="rgb(245,35,15)" stroke="#3a3a3a" stroke-width="0.9" stroke-linejoin="round"/>
<circle cx="102.50" cy="365.25" r="8.6" fill="none" stroke="rgb(242,62,22)" stroke-width="0.9"/>
<path d="M102.50,365.25 L102.50,356.65 A8.6,8.6 0 1 1 97.45,358.29 Z" fill="rgb(242,62,22)" stroke="#3a3a3a" stroke-width="0.9" stroke-linejoin="round"/>
<circle cx="122.50" cy="365.25" r="8.6" fill="none" stroke="rgb(245,35,15)" stroke-width="0.9"/>
<circle cx="122.50" cy="365.25" r="8.6" fill="rgb(245,35,15)" stroke="#3a3a3a" stroke-width="0.9"/>
<line x1="122.50" y1="365.25" x2="122.50" y2="356.65" stroke="#3a3a3a" stroke-width="0.9"/>
<circle cx="142.50" cy="365.25" r="8.6" fill="none" stroke="rgb(245,35,15)" stroke-width="0.9"/>
<circle cx="142.50" cy="365.25" r="8.6" fill="rgb(245,35,15)" stroke="#3a3a3a" stroke-width="0.9"/>
<line x1="142.50" y1="365.25" x2="142.50" y2="356.65" stroke="#3a3a3a" stroke-width="0.9"/>
<text transform="translate(162.50,368.25) scale(0.92,1)" font-size="6.6" font-weight="bold" fill="#111" stroke="#111" stroke-width="0.12" text-anchor="middle">1</text>
<text transform="translate(182.50,368.25) scale(0.92,1)" font-size="6.6" font-weight="bold" fill="#111" stroke="#111" stroke-width="0.12" text-anchor="middle">0.48</text>
<text transform="translate(202.50,368.25) scale(0.92,1)" font-size="6.6" font-weight="bold" fill="#111" stroke="#111" stroke-width="0.12" text-anchor="middle">0.48</text>
<text transform="translate(222.50,368.25) scale(0.92,1)" font-size="6.6" font-weight="bold" fill="#111" stroke="#111" stroke-width="0.12" text-anchor="middle">0.48</text>
<text transform="translate(242.50,368.25) scale(0.92,1)" font-size="6.6" font-weight="bold" fill="#111" stroke="#111" stroke-width="0.12" text-anchor="middle">0.3</text>
<text transform="translate(262.50,368.25) scale(0.92,1)" font-size="6.6" font-weight="bold" fill="#111" stroke="#111" stroke-width="0.12" text-anchor="middle">0.3</text>
<text transform="translate(282.50,368.25) scale(0.92,1)" font-size="6.6" font-weight="bold" fill="#111" stroke="#111" stroke-width="0.12" text-anchor="middle">0.3</text>
<text transform="translate(302.50,368.25) scale(0.92,1)" font-size="6.6" font-weight="bold" fill="#111" stroke="#111" stroke-width="0.12" text-anchor="middle">0.19</text>
<text transform="translate(322.50,368.25) scale(0.92,1)" font-size="6.6" font-weight="bold" fill="#111" stroke="#111" stroke-width="0.12" text-anchor="middle">0.19</text>
<text transform="translate(342.50,368.25) scale(0.92,1)" font-size="6.6" font-weight="bold" fill="#111" stroke="#111" stroke-width="0.12" text-anchor="middle">0.19</text>
<circle cx="62.50" cy="385.25" r="8.6" fill="none" stroke="rgb(233,130,42)" stroke-width="0.9"/>
<path d="M62.50,385.25 L62.50,376.65 A8.6,8.6 0 1 1 61.96,393.83 Z" fill="rgb(233,130,42)" stroke="#3a3a3a" stroke-width="0.9" stroke-linejoin="round"/>
<circle cx="82.50" cy="385.25" r="8.6" fill="none" stroke="rgb(233,130,42)" stroke-width="0.9"/>
<path d="M82.50,385.25 L82.50,376.65 A8.6,8.6 0 1 1 81.42,393.78 Z" fill="rgb(233,130,42)" stroke="#3a3a3a" stroke-width="0.9" stroke-linejoin="round"/>
<circle cx="102.50" cy="385.25" r="8.6" fill="none" stroke="rgb(233,130,42)" stroke-width="0.9"/>
<path d="M102.50,385.25 L102.50,376.65 A8.6,8.6 0 1 1 101.96,393.83 Z" fill="rgb(233,130,42)" stroke="#3a3a3a" stroke-width="0.9" stroke-linejoin="round"/>
<circle cx="122.50" cy="385.25" r="8.6" fill="none" stroke="rgb(230,150,45)" stroke-width="0.9"/>
<path d="M122.50,385.25 L122.50,376.65 A8.6,8.6 0 0 1 123.58,393.78 Z" fill="rgb(230,150,45)" stroke="#3a3a3a" stroke-width="0.9" stroke-linejoin="round"/>
<circle cx="142.50" cy="385.25" r="8.6" fill="none" stroke="rgb(230,150,45)" stroke-width="0.9"/>
<path d="M142.50,385.25 L142.50,376.65 A8.6,8.6 0 0 1 143.04,393.83 Z" fill="rgb(230,150,45)" stroke="#3a3a3a" stroke-width="0.9" stroke-linejoin="round"/>
<circle cx="162.50" cy="385.25" r="8.6" fill="none" stroke="rgb(230,150,45)" stroke-width="0.9"/>
<path d="M162.50,385.25 L162.50,376.65 A8.6,8.6 0 0 1 163.58,393.78 Z" fill="rgb(230,150,45)" stroke="#3a3a3a" stroke-width="0.9" stroke-linejoin="round"/>
<text transform="translate(182.50,388.25) scale(0.92,1)" font-size="6.6" font-weight="bold" fill="#111" stroke="#111" stroke-width="0.12" text-anchor="middle">1</text>
<text transform="translate(202.50,388.25) scale(0.92,1)" font-size="6.6" font-weight="bold" fill="#111" stroke="#111" stroke-width="0.12" text-anchor="middle">1</text>
<text transform="translate(222.50,388.25) scale(0.92,1)" font-size="6.6" font-weight="bold" fill="#111" stroke="#111" stroke-width="0.12" text-anchor="middle">1</text>
<text transform="translate(242.50,388.25) scale(0.92,1)" font-size="6.6" font-weight="bold" fill="#111" stroke="#111" stroke-width="0.12" text-anchor="middle">0.87</text>
<text transform="translate(262.50,388.25) scale(0.92,1)" font-size="6.6" font-weight="bold" fill="#111" stroke="#111" stroke-width="0.12" text-anchor="middle">0.87</text>
<text transform="translate(282.50,388.25) scale(0.92,1)" font-size="6.6" font-weight="bold" fill="#111" stroke="#111" stroke-width="0.12" text-anchor="middle">0.88</text>
<text transform="translate(302.50,388.25) scale(0.92,1)" font-size="6.6" font-weight="bold" fill="#111" stroke="#111" stroke-width="0.12" text-anchor="middle">0.73</text>
<text transform="translate(322.50,388.25) scale(0.92,1)" font-size="6.6" font-weight="bold" fill="#111" stroke="#111" stroke-width="0.12" text-anchor="middle">0.73</text>
<text transform="translate(342.50,388.25) scale(0.92,1)" font-size="6.6" font-weight="bold" fill="#111" stroke="#111" stroke-width="0.12" text-anchor="middle">0.73</text>
<circle cx="62.50" cy="405.25" r="8.6" fill="none" stroke="rgb(233,130,42)" stroke-width="0.9"/>
<path d="M62.50,405.25 L62.50,396.65 A8.6,8.6 0 1 1 61.96,413.83 Z" fill="rgb(233,130,42)" stroke="#3a3a3a" stroke-width="0.9" stroke-linejoin="round"/>
<circle cx="82.50" cy="405.25" r="8.6" fill="none" stroke="rgb(233,130,42)" stroke-width="0.9"/>
<path d="M82.50,405.25 L82.50,396.65 A8.6,8.6 0 1 1 81.96,413.83 Z" fill="rgb(233,130,42)" stroke="#3a3a3a" stroke-width="0.9" stroke-linejoin="round"/>
<circle cx="102.50" cy="405.25" r="8.6" fill="none" stroke="rgb(233,130,42)" stroke-width="0.9"/>
<path d="M102.50,405.25 L102.50,396.65 A8.6,8.6 0 1 1 101.96,413.83 Z" fill="rgb(233,130,42)" stroke="#3a3a3a" stroke-width="0.9" stroke-linejoin="round"/>
<circle cx="122.50" cy="405.25" r="8.6" fill="none" stroke="rgb(230,150,45)" stroke-width="0.9"/>
<path d="M122.50,405.25 L122.50,396.65 A8.6,8.6 0 0 1 123.58,413.78 Z" fill="rgb(230,150,45)" stroke="#3a3a3a" stroke-width="0.9" stroke-linejoin="round"/>
<circle cx="142.50" cy="405.25" r="8.6" fill="none" stroke="rgb(230,150,45)" stroke-width="0.9"/>
<path d="M142.50,405.25 L142.50,396.65 A8.6,8.6 0 0 1 143.58,413.78 Z" fill="rgb(230,150,45)" stroke="#3a3a3a" stroke-width="0.9" stroke-linejoin="round"/>
<circle cx="162.50" cy="405.25" r="8.6" fill="none" stroke="rgb(230,150,45)" stroke-width="0.9"/>
<path d="M162.50,405.25 L162.50,396.65 A8.6,8.6 0 0 1 163.58,413.78 Z" fill="rgb(230,150,45)" stroke="#3a3a3a" stroke-width="0.9" stroke-linejoin="round"/>
<circle cx="182.50" cy="405.25" r="8.6" fill="none" stroke="rgb(245,35,15)" stroke-width="0.9"/>
<circle cx="182.50" cy="405.25" r="8.6" fill="rgb(245,35,15)" stroke="#3a3a3a" stroke-width="0.9"/>
<line x1="182.50" y1="405.25" x2="182.50" y2="396.65" stroke="#3a3a3a" stroke-width="0.9"/>
<text transform="translate(202.50,408.25) scale(0.92,1)" font-size="6.6" font-weight="bold" fill="#111" stroke="#111" stroke-width="0.12" text-anchor="middle">1</text>
<text transform="translate(222.50,408.25) scale(0.92,1)" font-size="6.6" font-weight="bold" fill="#111" stroke="#111" stroke-width="0.12" text-anchor="middle">1</text>
<text transform="translate(242.50,408.25) scale(0.92,1)" font-size="6.6" font-weight="bold" fill="#111" stroke="#111" stroke-width="0.12" text-anchor="middle">0.87</text>
<text transform="translate(262.50,408.25) scale(0.92,1)" font-size="6.6" font-weight="bold" fill="#111" stroke="#111" stroke-width="0.12" text-anchor="middle">0.87</text>
<text transform="translate(282.50,408.25) scale(0.92,1)" font-size="6.6" font-weight="bold" fill="#111" stroke="#111" stroke-width="0.12" text-anchor="middle">0.88</text>
<text transform="translate(302.50,408.25) scale(0.92,1)" font-size="6.6" font-weight="bold" fill="#111" stroke="#111" stroke-width="0.12" text-anchor="middle">0.73</text>
<text transform="translate(322.50,408.25) scale(0.92,1)" font-size="6.6" font-weight="bold" fill="#111" stroke="#111" stroke-width="0.12" text-anchor="middle">0.73</text>
<text transform="translate(342.50,408.25) scale(0.92,1)" font-size="6.6" font-weight="bold" fill="#111" stroke="#111" stroke-width="0.12" text-anchor="middle">0.73</text>
<circle cx="62.50" cy="425.25" r="8.6" fill="none" stroke="rgb(233,130,42)" stroke-width="0.9"/>
<path d="M62.50,425.25 L62.50,416.65 A8.6,8.6 0 1 1 61.96,433.83 Z" fill="rgb(233,130,42)" stroke="#3a3a3a" stroke-width="0.9" stroke-linejoin="round"/>
<circle cx="82.50" cy="425.25" r="8.6" fill="none" stroke="rgb(233,130,42)" stroke-width="0.9"/>
<path d="M82.50,425.25 L82.50,416.65 A8.6,8.6 0 1 1 81.96,433.83 Z" fill="rgb(233,130,42)" stroke="#3a3a3a" stroke-width="0.9" stroke-linejoin="round"/>
<circle cx="102.50" cy="425.25" r="8.6" fill="none" stroke="rgb(233,130,42)" stroke-width="0.9"/>
<path d="M102.50,425.25 L102.50,416.65 A8.6,8.6 0 1 1 101.96,433.83 Z" fill="rgb(233,130,42)" stroke="#3a3a3a" stroke-width="0.9" stroke-linejoin="round"/>
<circle cx="122.50" cy="425.25" r="8.6" fill="none" stroke="rgb(230,150,45)" stroke-width="0.9"/>
<path d="M122.50,425.25 L122.50,416.65 A8.6,8.6 0 0 1 123.58,433.78 Z" fill="rgb(230,150,45)" stroke="#3a3a3a" stroke-width="0.9" stroke-linejoin="round"/>
<circle cx="142.50" cy="425.25" r="8.6" fill="none" stroke="rgb(230,150,45)" stroke-width="0.9"/>
<path d="M142.50,425.25 L142.50,416.65 A8.6,8.6 0 0 1 143.58,433.78 Z" fill="rgb(230,150,45)" stroke="#3a3a3a" stroke-width="0.9" stroke-linejoin="round"/>
<circle cx="162.50" cy="425.25" r="8.6" fill="none" stroke="rgb(230,150,45)" stroke-width="0.9"/>
<path d="M162.50,425.25 L162.50,416.65 A8.6,8.6 0 0 1 163.58,433.78 Z" fill="rgb(230,150,45)" stroke="#3a3a3a" stroke-width="0.9" stroke-linejoin="round"/>
<circle cx="182.50" cy="425.25" r="8.6" fill="none" stroke="rgb(245,35,15)" stroke-width="0.9"/>
<circle cx="182.50" cy="425.25" r="8.6" fill="rgb(245,35,15)" stroke="#3a3a3a" stroke-width="0.9"/>
<line x1="182.50" y1="425.25" x2="182.50" y2="416.65" stroke="#3a3a3a" stroke-width="0.9"/>
<circle cx="202.50" cy="425.25" r="8.6" fill="none" stroke="rgb(245,35,15)" stroke-width="0.9"/>
<circle cx="202.50" cy="425.25" r="8.6" fill="rgb(245,35,15)" stroke="#3a3a3a" stroke-width="0.9"/>
<line x1="202.50" y1="425.25" x2="202.50" y2="416.65" stroke="#3a3a3a" stroke-width="0.9"/>
<text transform="translate(222.50,428.25) scale(0.92,1)" font-size="6.6" font-weight="bold" fill="#111" stroke="#111" stroke-width="0.12" text-anchor="middle">1</text>
<text transform="translate(242.50,428.25) scale(0.92,1)" font-size="6.6" font-weight="bold" fill="#111" stroke="#111" stroke-width="0.12" text-anchor="middle">0.87</text>
<text transform="translate(262.50,428.25) scale(0.92,1)" font-size="6.6" font-weight="bold" fill="#111" stroke="#111" stroke-width="0.12" text-anchor="middle">0.87</text>
<text transform="translate(282.50,428.25) scale(0.92,1)" font-size="6.6" font-weight="bold" fill="#111" stroke="#111" stroke-width="0.12" text-anchor="middle">0.88</text>
<text transform="translate(302.50,428.25) scale(0.92,1)" font-size="6.6" font-weight="bold" fill="#111" stroke="#111" stroke-width="0.12" text-anchor="middle">0.73</text>
<text transform="translate(322.50,428.25) scale(0.92,1)" font-size="6.6" font-weight="bold" fill="#111" stroke="#111" stroke-width="0.12" text-anchor="middle">0.72</text>
<text transform="translate(342.50,428.25) scale(0.92,1)" font-size="6.6" font-weight="bold" fill="#111" stroke="#111" stroke-width="0.12" text-anchor="middle">0.73</text>
<circle cx="62.50" cy="445.25" r="8.6" fill="none" stroke="rgb(226,170,50)" stroke-width="0.9"/>
<path d="M62.50,445.25 L62.50,436.65 A8.6,8.6 0 0 1 70.04,449.39 Z" fill="rgb(226,170,50)" stroke="#3a3a3a" stroke-width="0.9" stroke-linejoin="round"/>
<circle cx="82.50" cy="445.25" r="8.6" fill="none" stroke="rgb(226,170,50)" stroke-width="0.9"/>
<path d="M82.50,445.25 L82.50,436.65 A8.6,8.6 0 0 1 89.76,449.86 Z" fill="rgb(226,170,50)" stroke="#3a3a3a" stroke-width="0.9" stroke-linejoin="round"/>
<circle cx="102.50" cy="445.25" r="8.6" fill="none" stroke="rgb(226,170,50)" stroke-width="0.9"/>
<path d="M102.50,445.25 L102.50,436.65 A8.6,8.6 0 0 1 109.76,449.86 Z" fill="rgb(226,170,50)" stroke="#3a3a3a" stroke-width="0.9" stroke-linejoin="round"/>
<circle cx="122.50" cy="445.25" r="8.6" fill="none" stroke="rgb(222,190,55)" stroke-width="0.9"/>
<path d="M122.50,445.25 L122.50,436.65 A8.6,8.6 0 0 1 130.68,447.91 Z" fill="rgb(222,190,55)" stroke="#3a3a3a" stroke-width="0.9" stroke-linejoin="round"/>
<circle cx="142.50" cy="445.25" r="8.6" fill="none" stroke="rgb(222,190,55)" stroke-width="0.9"/>
<path d="M142.50,445.25 L142.50,436.65 A8.6,8.6 0 0 1 150.68,447.91 Z" fill="rgb(222,190,55)" stroke="#3a3a3a" stroke-width="0.9" stroke-linejoin="round"/>
<circle cx="162.50" cy="445.25" r="8.6" fill="none" stroke="rgb(222,190,55)" stroke-width="0.9"/>
<path d="M162.50,445.25 L162.50,436.65 A8.6,8.6 0 0 1 170.68,447.91 Z" fill="rgb(222,190,55)" stroke="#3a3a3a" stroke-width="0.9" stroke-linejoin="round"/>
<circle cx="182.50" cy="445.25" r="8.6" fill="none" stroke="rgb(242,62,22)" stroke-width="0.9"/>
<path d="M182.50,445.25 L182.50,436.65 A8.6,8.6 0 1 1 176.23,439.36 Z" fill="rgb(242,62,22)" stroke="#3a3a3a" stroke-width="0.9" stroke-linejoin="round"/>
<circle cx="202.50" cy="445.25" r="8.6" fill="none" stroke="rgb(242,62,22)" stroke-width="0.9"/>
<path d="M202.50,445.25 L202.50,436.65 A8.6,8.6 0 1 1 196.23,439.36 Z" fill="rgb(242,62,22)" stroke="#3a3a3a" stroke-width="0.9" stroke-linejoin="round"/>
<circle cx="222.50" cy="445.25" r="8.6" fill="none" stroke="rgb(242,62,22)" stroke-width="0.9"/>
<path d="M222.50,445.25 L222.50,436.65 A8.6,8.6 0 1 1 216.23,439.36 Z" fill="rgb(242,62,22)" stroke="#3a3a3a" stroke-width="0.9" stroke-linejoin="round"/>
<text transform="translate(242.50,448.25) scale(0.92,1)" font-size="6.6" font-weight="bold" fill="#111" stroke="#111" stroke-width="0.12" text-anchor="middle">1</text>
<text transform="translate(262.50,448.25) scale(0.92,1)" font-size="6.6" font-weight="bold" fill="#111" stroke="#111" stroke-width="0.12" text-anchor="middle">1</text>
<text transform="translate(282.50,448.25) scale(0.92,1)" font-size="6.6" font-weight="bold" fill="#111" stroke="#111" stroke-width="0.12" text-anchor="middle">1</text>
<text transform="translate(302.50,448.25) scale(0.92,1)" font-size="6.6" font-weight="bold" fill="#111" stroke="#111" stroke-width="0.12" text-anchor="middle">0.93</text>
<text transform="translate(322.50,448.25) scale(0.92,1)" font-size="6.6" font-weight="bold" fill="#111" stroke="#111" stroke-width="0.12" text-anchor="middle">0.92</text>
<text transform="translate(342.50,448.25) scale(0.92,1)" font-size="6.6" font-weight="bold" fill="#111" stroke="#111" stroke-width="0.12" text-anchor="middle">0.93</text>
<circle cx="62.50" cy="465.25" r="8.6" fill="none" stroke="rgb(226,170,50)" stroke-width="0.9"/>
<path d="M62.50,465.25 L62.50,456.65 A8.6,8.6 0 0 1 70.04,469.39 Z" fill="rgb(226,170,50)" stroke="#3a3a3a" stroke-width="0.9" stroke-linejoin="round"/>
<circle cx="82.50" cy="465.25" r="8.6" fill="none" stroke="rgb(226,170,50)" stroke-width="0.9"/>
<path d="M82.50,465.25 L82.50,456.65 A8.6,8.6 0 0 1 89.76,469.86 Z" fill="rgb(226,170,50)" stroke="#3a3a3a" stroke-width="0.9" stroke-linejoin="round"/>
<circle cx="102.50" cy="465.25" r="8.6" fill="none" stroke="rgb(226,170,50)" stroke-width="0.9"/>
<path d="M102.50,465.25 L102.50,456.65 A8.6,8.6 0 0 1 109.76,469.86 Z" fill="rgb(226,170,50)" stroke="#3a3a3a" stroke-width="0.9" stroke-linejoin="round"/>
<circle cx="122.50" cy="465.25" r="8.6" fill="none" stroke="rgb(222,190,55)" stroke-width="0.9"/>
<path d="M122.50,465.25 L122.50,456.65 A8.6,8.6 0 0 1 130.83,467.39 Z" fill="rgb(222,190,55)" stroke="#3a3a3a" stroke-width="0.9" stroke-linejoin="round"/>
<circle cx="142.50" cy="465.25" r="8.6" fill="none" stroke="rgb(222,190,55)" stroke-width="0.9"/>
<path d="M142.50,465.25 L142.50,456.65 A8.6,8.6 0 0 1 150.68,467.91 Z" fill="rgb(222,190,55)" stroke="#3a3a3a" stroke-width="0.9" stroke-linejoin="round"/>
<circle cx="162.50" cy="465.25" r="8.6" fill="none" stroke="rgb(222,190,55)" stroke-width="0.9"/>
<path d="M162.50,465.25 L162.50,456.65 A8.6,8.6 0 0 1 170.68,467.91 Z" fill="rgb(222,190,55)" stroke="#3a3a3a" stroke-width="0.9" stroke-linejoin="round"/>
<circle cx="182.50" cy="465.25" r="8.6" fill="none" stroke="rgb(242,62,22)" stroke-width="0.9"/>
<path d="M182.50,465.25 L182.50,456.65 A8.6,8.6 0 1 1 176.23,459.36 Z" fill="rgb(242,62,22)" stroke="#3a3a3a" stroke-width="0.9" stroke-linejoin="round"/>
<circle cx="202.50" cy="465.25" r="8.6" fill="none" stroke="rgb(242,62,22)" stroke-width="0.9"/>
<path d="M202.50,465.25 L202.50,456.65 A8.6,8.6 0 1 1 196.23,459.36 Z" fill="rgb(242,62,22)" stroke="#3a3a3a" stroke-width="0.9" stroke-linejoin="round"/>
<circle cx="222.50" cy="465.25" r="8.6" fill="none" stroke="rgb(242,62,22)" stroke-width="0.9"/>
<path d="M222.50,465.25 L222.50,456.65 A8.6,8.6 0 1 1 216.23,459.36 Z" fill="rgb(242,62,22)" stroke="#3a3a3a" stroke-width="0.9" stroke-linejoin="round"/>
<circle cx="242.50" cy="465.25" r="8.6" fill="none" stroke="rgb(245,35,15)" stroke-width="0.9"/>
<circle cx="242.50" cy="465.25" r="8.6" fill="rgb(245,35,15)" stroke="#3a3a3a" stroke-width="0.9"/>
<line x1="242.50" y1="465.25" x2="242.50" y2="456.65" stroke="#3a3a3a" stroke-width="0.9"/>
<text transform="translate(262.50,468.25) scale(0.92,1)" font-size="6.6" font-weight="bold" fill="#111" stroke="#111" stroke-width="0.12" text-anchor="middle">1</text>
<text transform="translate(282.50,468.25) scale(0.92,1)" font-size="6.6" font-weight="bold" fill="#111" stroke="#111" stroke-width="0.12" text-anchor="middle">1</text>
<text transform="translate(302.50,468.25) scale(0.92,1)" font-size="6.6" font-weight="bold" fill="#111" stroke="#111" stroke-width="0.12" text-anchor="middle">0.93</text>
<text transform="translate(322.50,468.25) scale(0.92,1)" font-size="6.6" font-weight="bold" fill="#111" stroke="#111" stroke-width="0.12" text-anchor="middle">0.93</text>
<text transform="translate(342.50,468.25) scale(0.92,1)" font-size="6.6" font-weight="bold" fill="#111" stroke="#111" stroke-width="0.12" text-anchor="middle">0.93</text>
<circle cx="62.50" cy="485.25" r="8.6" fill="none" stroke="rgb(226,170,50)" stroke-width="0.9"/>
<path d="M62.50,485.25 L62.50,476.65 A8.6,8.6 0 0 1 69.76,489.86 Z" fill="rgb(226,170,50)" stroke="#3a3a3a" stroke-width="0.9" stroke-linejoin="round"/>
<circle cx="82.50" cy="485.25" r="8.6" fill="none" stroke="rgb(226,170,50)" stroke-width="0.9"/>
<path d="M82.50,485.25 L82.50,476.65 A8.6,8.6 0 0 1 89.76,489.86 Z" fill="rgb(226,170,50)" stroke="#3a3a3a" stroke-width="0.9" stroke-linejoin="round"/>
<circle cx="102.50" cy="485.25" r="8.6" fill="none" stroke="rgb(226,170,50)" stroke-width="0.9"/>
<path d="M102.50,485.25 L102.50,476.65 A8.6,8.6 0 0 1 109.76,489.86 Z" fill="rgb(226,170,50)" stroke="#3a3a3a" stroke-width="0.9" stroke-linejoin="round"/>
<circle cx="122.50" cy="485.25" r="8.6" fill="none" stroke="rgb(222,190,55)" stroke-width="0.9"/>
<path d="M122.50,485.25 L122.50,476.65 A8.6,8.6 0 0 1 130.68,487.91 Z" fill="rgb(222,190,55)" stroke="#3a3a3a" stroke-width="0.9" stroke-linejoin="round"/>
<circle cx="142.50" cy="485.25" r="8.6" fill="none" stroke="rgb(226,170,50)" stroke-width="0.9"/>
<path d="M142.50,485.25 L142.50,476.65 A8.6,8.6 0 0 1 150.68,487.91 Z" fill="rgb(226,170,50)" stroke="#3a3a3a" stroke-width="0.9" stroke-linejoin="round"/>
<circle cx="162.50" cy="485.25" r="8.6" fill="none" stroke="rgb(222,190,55)" stroke-width="0.9"/>
<path d="M162.50,485.25 L162.50,476.65 A8.6,8.6 0 0 1 170.68,487.91 Z" fill="rgb(222,190,55)" stroke="#3a3a3a" stroke-width="0.9" stroke-linejoin="round"/>
<circle cx="182.50" cy="485.25" r="8.6" fill="none" stroke="rgb(242,62,22)" stroke-width="0.9"/>
<path d="M182.50,485.25 L182.50,476.65 A8.6,8.6 0 1 1 176.61,478.98 Z" fill="rgb(242,62,22)" stroke="#3a3a3a" stroke-width="0.9" stroke-linejoin="round"/>
<circle cx="202.50" cy="485.25" r="8.6" fill="none" stroke="rgb(242,62,22)" stroke-width="0.9"/>
<path d="M202.50,485.25 L202.50,476.65 A8.6,8.6 0 1 1 196.61,478.98 Z" fill="rgb(242,62,22)" stroke="#3a3a3a" stroke-width="0.9" stroke-linejoin="round"/>
<circle cx="222.50" cy="485.25" r="8.6" fill="none" stroke="rgb(242,62,22)" stroke-width="0.9"/>
<path d="M222.50,485.25 L222.50,476.65 A8.6,8.6 0 1 1 216.61,478.98 Z" fill="rgb(242,62,22)" stroke="#3a3a3a" stroke-width="0.9" stroke-linejoin="round"/>
<circle cx="242.50" cy="485.25" r="8.6" fill="none" stroke="rgb(245,35,15)" stroke-width="0.9"/>
<circle cx="242.50" cy="485.25" r="8.6" fill="rgb(245,35,15)" stroke="#3a3a3a" stroke-width="0.9"/>
<line x1="242.50" y1="485.25" x2="242.50" y2="476.65" stroke="#3a3a3a" stroke-width="0.9"/>
<circle cx="262.50" cy="485.25" r="8.6" fill="none" stroke="rgb(245,35,15)" stroke-width="0.9"/>
<circle cx="262.50" cy="485.25" r="8.6" fill="rgb(245,35,15)" stroke="#3a3a3a" stroke-width="0.9"/>
<line x1="262.50" y1="485.25" x2="262.50" y2="476.65" stroke="#3a3a3a" stroke-width="0.9"/>
<text transform="translate(282.50,488.25) scale(0.92,1)" font-size="6.6" font-weight="bold" fill="#111" stroke="#111" stroke-width="0.12" text-anchor="middle">1</text>
<text transform="translate(302.50,488.25) scale(0.92,1)" font-size="6.6" font-weight="bold" fill="#111" stroke="#111" stroke-width="0.12" text-anchor="middle">0.93</text>
<text transform="translate(322.50,488.25) scale(0.92,1)" font-size="6.6" font-weight="bold" fill="#111" stroke="#111" stroke-width="0.12" text-anchor="middle">0.93</text>
<text transform="translate(342.50,488.25) scale(0.92,1)" font-size="6.6" font-weight="bold" fill="#111" stroke="#111" stroke-width="0.12" text-anchor="middle">0.93</text>
<circle cx="62.50" cy="505.25" r="8.6" fill="none" stroke="rgb(222,190,55)" stroke-width="0.9"/>
<path d="M62.50,505.25 L62.50,496.65 A8.6,8.6 0 0 1 70.95,503.64 Z" fill="rgb(222,190,55)" stroke="#3a3a3a" stroke-width="0.9" stroke-linejoin="round"/>
<circle cx="82.50" cy="505.25" r="8.6" fill="none" stroke="rgb(222,190,55)" stroke-width="0.9"/>
<path d="M82.50,505.25 L82.50,496.65 A8.6,8.6 0 0 1 90.95,503.64 Z" fill="rgb(222,190,55)" stroke="#3a3a3a" stroke-width="0.9" stroke-linejoin="round"/>
<circle cx="102.50" cy="505.25" r="8.6" fill="none" stroke="rgb(222,190,55)" stroke-width="0.9"/>
<path d="M102.50,505.25 L102.50,496.65 A8.6,8.6 0 0 1 110.95,503.64 Z" fill="rgb(222,190,55)" stroke="#3a3a3a" stroke-width="0.9" stroke-linejoin="round"/>
<circle cx="122.50" cy="505.25" r="8.6" fill="none" stroke="rgb(224,208,75)" stroke-width="0.9"/>
<path d="M122.50,505.25 L122.50,496.65 A8.6,8.6 0 0 1 130.50,502.08 Z" fill="rgb(224,208,75)" stroke="#3a3a3a" stroke-width="0.9" stroke-linejoin="round"/>
<circle cx="142.50" cy="505.25" r="8.6" fill="none" stroke="rgb(224,208,75)" stroke-width="0.9"/>
<path d="M142.50,505.25 L142.50,496.65 A8.6,8.6 0 0 1 150.50,502.08 Z" fill="rgb(224,208,75)" stroke="#3a3a3a" stroke-width="0.9" stroke-linejoin="round"/>
<circle cx="162.50" cy="505.25" r="8.6" fill="none" stroke="rgb(224,208,75)" stroke-width="0.9"/>
<path d="M162.50,505.25 L162.50,496.65 A8.6,8.6 0 0 1 170.50,502.08 Z" fill="rgb(224,208,75)" stroke="#3a3a3a" stroke-width="0.9" stroke-linejoin="round"/>
<circle cx="182.50" cy="505.25" r="8.6" fill="none" stroke="rgb(240,92,33)" stroke-width="0.9"/>
<path d="M182.50,505.25 L182.50,496.65 A8.6,8.6 0 1 1 173.97,506.33 Z" fill="rgb(240,92,33)" stroke="#3a3a3a" stroke-width="0.9" stroke-linejoin="round"/>
<circle cx="202.50" cy="505.25" r="8.6" fill="none" stroke="rgb(240,92,33)" stroke-width="0.9"/>
<path d="M202.50,505.25 L202.50,496.65 A8.6,8.6 0 1 1 193.97,506.33 Z" fill="rgb(240,92,33)" stroke="#3a3a3a" stroke-width="0.9" stroke-linejoin="round"/>
<circle cx="222.50" cy="505.25" r="8.6" fill="none" stroke="rgb(240,92,33)" stroke-width="0.9"/>
<path d="M222.50,505.25 L222.50,496.65 A8.6,8.6 0 1 1 213.97,506.33 Z" fill="rgb(240,92,33)" stroke="#3a3a3a" stroke-width="0.9" stroke-linejoin="round"/>
<circle cx="242.50" cy="505.25" r="8.6" fill="none" stroke="rgb(245,35,15)" stroke-width="0.9"/>
<path d="M242.50,505.25 L242.50,496.65 A8.6,8.6 0 1 1 238.84,497.47 Z" fill="rgb(245,35,15)" stroke="#3a3a3a" stroke-width="0.9" stroke-linejoin="round"/>
<circle cx="262.50" cy="505.25" r="8.6" fill="none" stroke="rgb(245,35,15)" stroke-width="0.9"/>
<path d="M262.50,505.25 L262.50,496.65 A8.6,8.6 0 1 1 258.84,497.47 Z" fill="rgb(245,35,15)" stroke="#3a3a3a" stroke-width="0.9" stroke-linejoin="round"/>
<circle cx="282.50" cy="505.25" r="8.6" fill="none" stroke="rgb(245,35,15)" stroke-width="0.9"/>
<path d="M282.50,505.25 L282.50,496.65 A8.6,8.6 0 1 1 278.84,497.47 Z" fill="rgb(245,35,15)" stroke="#3a3a3a" stroke-width="0.9" stroke-linejoin="round"/>
<text transform="translate(302.50,508.25) scale(0.92,1)" font-size="6.6" font-weight="bold" fill="#111" stroke="#111" stroke-width="0.12" text-anchor="middle">1</text>
<text transform="translate(322.50,508.25) scale(0.92,1)" font-size="6.6" font-weight="bold" fill="#111" stroke="#111" stroke-width="0.12" text-anchor="middle">1</text>
<text transform="translate(342.50,508.25) scale(0.92,1)" font-size="6.6" font-weight="bold" fill="#111" stroke="#111" stroke-width="0.12" text-anchor="middle">1</text>
<circle cx="62.50" cy="525.25" r="8.6" fill="none" stroke="rgb(222,190,55)" stroke-width="0.9"/>
<path d="M62.50,525.25 L62.50,516.65 A8.6,8.6 0 0 1 70.95,523.64 Z" fill="rgb(222,190,55)" stroke="#3a3a3a" stroke-width="0.9" stroke-linejoin="round"/>
<circle cx="82.50" cy="525.25" r="8.6" fill="none" stroke="rgb(222,190,55)" stroke-width="0.9"/>
<path d="M82.50,525.25 L82.50,516.65 A8.6,8.6 0 0 1 90.95,523.64 Z" fill="rgb(222,190,55)" stroke="#3a3a3a" stroke-width="0.9" stroke-linejoin="round"/>
<circle cx="102.50" cy="525.25" r="8.6" fill="none" stroke="rgb(222,190,55)" stroke-width="0.9"/>
<path d="M102.50,525.25 L102.50,516.65 A8.6,8.6 0 0 1 110.95,523.64 Z" fill="rgb(222,190,55)" stroke="#3a3a3a" stroke-width="0.9" stroke-linejoin="round"/>
<circle cx="122.50" cy="525.25" r="8.6" fill="none" stroke="rgb(224,208,75)" stroke-width="0.9"/>
<path d="M122.50,525.25 L122.50,516.65 A8.6,8.6 0 0 1 130.50,522.08 Z" fill="rgb(224,208,75)" stroke="#3a3a3a" stroke-width="0.9" stroke-linejoin="round"/>
<circle cx="142.50" cy="525.25" r="8.6" fill="none" stroke="rgb(224,208,75)" stroke-width="0.9"/>
<path d="M142.50,525.25 L142.50,516.65 A8.6,8.6 0 0 1 150.50,522.08 Z" fill="rgb(224,208,75)" stroke="#3a3a3a" stroke-width="0.9" stroke-linejoin="round"/>
<circle cx="162.50" cy="525.25" r="8.6" fill="none" stroke="rgb(224,208,75)" stroke-width="0.9"/>
<path d="M162.50,525.25 L162.50,516.65 A8.6,8.6 0 0 1 170.50,522.08 Z" fill="rgb(224,208,75)" stroke="#3a3a3a" stroke-width="0.9" stroke-linejoin="round"/>
<circle cx="182.50" cy="525.25" r="8.6" fill="none" stroke="rgb(240,92,33)" stroke-width="0.9"/>
<path d="M182.50,525.25 L182.50,516.65 A8.6,8.6 0 1 1 173.97,526.33 Z" fill="rgb(240,92,33)" stroke="#3a3a3a" stroke-width="0.9" stroke-linejoin="round"/>
<circle cx="202.50" cy="525.25" r="8.6" fill="none" stroke="rgb(240,92,33)" stroke-width="0.9"/>
<path d="M202.50,525.25 L202.50,516.65 A8.6,8.6 0 1 1 193.97,526.33 Z" fill="rgb(240,92,33)" stroke="#3a3a3a" stroke-width="0.9" stroke-linejoin="round"/>
<circle cx="222.50" cy="525.25" r="8.6" fill="none" stroke="rgb(240,92,33)" stroke-width="0.9"/>
<path d="M222.50,525.25 L222.50,516.65 A8.6,8.6 0 1 1 214.05,526.86 Z" fill="rgb(240,92,33)" stroke="#3a3a3a" stroke-width="0.9" stroke-linejoin="round"/>
<circle cx="242.50" cy="525.25" r="8.6" fill="none" stroke="rgb(245,35,15)" stroke-width="0.9"/>
<path d="M242.50,525.25 L242.50,516.65 A8.6,8.6 0 1 1 238.36,517.71 Z" fill="rgb(245,35,15)" stroke="#3a3a3a" stroke-width="0.9" stroke-linejoin="round"/>
<circle cx="262.50" cy="525.25" r="8.6" fill="none" stroke="rgb(245,35,15)" stroke-width="0.9"/>
<path d="M262.50,525.25 L262.50,516.65 A8.6,8.6 0 1 1 258.84,517.47 Z" fill="rgb(245,35,15)" stroke="#3a3a3a" stroke-width="0.9" stroke-linejoin="round"/>
<circle cx="282.50" cy="525.25" r="8.6" fill="none" stroke="rgb(245,35,15)" stroke-width="0.9"/>
<path d="M282.50,525.25 L282.50,516.65 A8.6,8.6 0 1 1 278.84,517.47 Z" fill="rgb(245,35,15)" stroke="#3a3a3a" stroke-width="0.9" stroke-linejoin="round"/>
<circle cx="302.50" cy="525.25" r="8.6" fill="none" stroke="rgb(245,35,15)" stroke-width="0.9"/>
<circle cx="302.50" cy="525.25" r="8.6" fill="rgb(245,35,15)" stroke="#3a3a3a" stroke-width="0.9"/>
<line x1="302.50" y1="525.25" x2="302.50" y2="516.65" stroke="#3a3a3a" stroke-width="0.9"/>
<text transform="translate(322.50,528.25) scale(0.92,1)" font-size="6.6" font-weight="bold" fill="#111" stroke="#111" stroke-width="0.12" text-anchor="middle">1</text>
<text transform="translate(342.50,528.25) scale(0.92,1)" font-size="6.6" font-weight="bold" fill="#111" stroke="#111" stroke-width="0.12" text-anchor="middle">1</text>
<circle cx="62.50" cy="545.25" r="8.6" fill="none" stroke="rgb(222,190,55)" stroke-width="0.9"/>
<path d="M62.50,545.25 L62.50,536.65 A8.6,8.6 0 0 1 70.95,543.64 Z" fill="rgb(222,190,55)" stroke="#3a3a3a" stroke-width="0.9" stroke-linejoin="round"/>
<circle cx="82.50" cy="545.25" r="8.6" fill="none" stroke="rgb(222,190,55)" stroke-width="0.9"/>
<path d="M82.50,545.25 L82.50,536.65 A8.6,8.6 0 0 1 90.95,543.64 Z" fill="rgb(222,190,55)" stroke="#3a3a3a" stroke-width="0.9" stroke-linejoin="round"/>
<circle cx="102.50" cy="545.25" r="8.6" fill="none" stroke="rgb(222,190,55)" stroke-width="0.9"/>
<path d="M102.50,545.25 L102.50,536.65 A8.6,8.6 0 0 1 110.95,543.64 Z" fill="rgb(222,190,55)" stroke="#3a3a3a" stroke-width="0.9" stroke-linejoin="round"/>
<circle cx="122.50" cy="545.25" r="8.6" fill="none" stroke="rgb(224,208,75)" stroke-width="0.9"/>
<path d="M122.50,545.25 L122.50,536.65 A8.6,8.6 0 0 1 130.50,542.08 Z" fill="rgb(224,208,75)" stroke="#3a3a3a" stroke-width="0.9" stroke-linejoin="round"/>
<circle cx="142.50" cy="545.25" r="8.6" fill="none" stroke="rgb(224,208,75)" stroke-width="0.9"/>
<path d="M142.50,545.25 L142.50,536.65 A8.6,8.6 0 0 1 150.50,542.08 Z" fill="rgb(224,208,75)" stroke="#3a3a3a" stroke-width="0.9" stroke-linejoin="round"/>
<circle cx="162.50" cy="545.25" r="8.6" fill="none" stroke="rgb(224,208,75)" stroke-width="0.9"/>
<path d="M162.50,545.25 L162.50,536.65 A8.6,8.6 0 0 1 170.50,542.08 Z" fill="rgb(224,208,75)" stroke="#3a3a3a" stroke-width="0.9" stroke-linejoin="round"/>
<circle cx="182.50" cy="545.25" r="8.6" fill="none" stroke="rgb(240,92,33)" stroke-width="0.9"/>
<path d="M182.50,545.25 L182.50,536.65 A8.6,8.6 0 1 1 173.97,546.33 Z" fill="rgb(240,92,33)" stroke="#3a3a3a" stroke-width="0.9" stroke-linejoin="round"/>
<circle cx="202.50" cy="545.25" r="8.6" fill="none" stroke="rgb(240,92,33)" stroke-width="0.9"/>
<path d="M202.50,545.25 L202.50,536.65 A8.6,8.6 0 1 1 193.97,546.33 Z" fill="rgb(240,92,33)" stroke="#3a3a3a" stroke-width="0.9" stroke-linejoin="round"/>
<circle cx="222.50" cy="545.25" r="8.6" fill="none" stroke="rgb(240,92,33)" stroke-width="0.9"/>
<path d="M222.50,545.25 L222.50,536.65 A8.6,8.6 0 1 1 213.97,546.33 Z" fill="rgb(240,92,33)" stroke="#3a3a3a" stroke-width="0.9" stroke-linejoin="round"/>
<circle cx="242.50" cy="545.25" r="8.6" fill="none" stroke="rgb(245,35,15)" stroke-width="0.9"/>
<path d="M242.50,545.25 L242.50,536.65 A8.6,8.6 0 1 1 238.84,537.47 Z" fill="rgb(245,35,15)" stroke="#3a3a3a" stroke-width="0.9" stroke-linejoin="round"/>
<circle cx="262.50" cy="545.25" r="8.6" fill="none" stroke="rgb(245,35,15)" stroke-width="0.9"/>
<path d="M262.50,545.25 L262.50,536.65 A8.6,8.6 0 1 1 258.84,537.47 Z" fill="rgb(245,35,15)" stroke="#3a3a3a" stroke-width="0.9" stroke-linejoin="round"/>
<circle cx="282.50" cy="545.25" r="8.6" fill="none" stroke="rgb(245,35,15)" stroke-width="0.9"/>
<path d="M282.50,545.25 L282.50,536.65 A8.6,8.6 0 1 1 278.84,537.47 Z" fill="rgb(245,35,15)" stroke="#3a3a3a" stroke-width="0.9" stroke-linejoin="round"/>
<circle cx="302.50" cy="545.25" r="8.6" fill="none" stroke="rgb(245,35,15)" stroke-width="0.9"/>
<circle cx="302.50" cy="545.25" r="8.6" fill="rgb(245,35,15)" stroke="#3a3a3a" stroke-width="0.9"/>
<line x1="302.50" y1="545.25" x2="302.50" y2="536.65" stroke="#3a3a3a" stroke-width="0.9"/>
<circle cx="322.50" cy="545.25" r="8.6" fill="none" stroke="rgb(245,35,15)" stroke-width="0.9"/>
<circle cx="322.50" cy="545.25" r="8.6" fill="rgb(245,35,15)" stroke="#3a3a3a" stroke-width="0.9"/>
<line x1="322.50" y1="545.25" x2="322.50" y2="536.65" stroke="#3a3a3a" stroke-width="0.9"/>
<text transform="translate(342.50,548.25) scale(0.92,1)" font-size="6.6" font-weight="bold" fill="#111" stroke="#111" stroke-width="0.12" text-anchor="middle">1</text>
<rect x="358.2" y="255.50" width="11.6" height="30.3" fill="rgb(245,35,15)"/>
<rect x="358.2" y="285.50" width="11.6" height="30.3" fill="rgb(242,62,22)"/>
<rect x="358.2" y="315.50" width="11.6" height="30.3" fill="rgb(240,92,33)"/>
<rect x="358.2" y="345.50" width="11.6" height="30.3" fill="rgb(236,110,36)"/>
<rect x="358.2" y="375.50" width="11.6" height="30.3" fill="rgb(233,130,42)"/>
<rect x="358.2" y="405.50" width="11.6" height="30.3" fill="rgb(230,150,45)"/>
<rect x="358.2" y="435.50" width="11.6" height="30.3" fill="rgb(226,170,50)"/>
<rect x="358.2" y="465.50" width="11.6" height="30.3" fill="rgb(222,190,55)"/>
<rect x="358.2" y="495.50" width="11.6" height="30.3" fill="rgb(224,208,75)"/>
<rect x="358.2" y="525.50" width="11.6" height="30.3" fill="rgb(232,222,130)"/>
<rect x="358.2" y="255.5" width="11.6" height="300" fill="none" stroke="#444" stroke-width="0.9"/>
<line x1="369.8" y1="255.50" x2="372.3" y2="255.50" stroke="#444" stroke-width="0.8"/>
<text transform="translate(382.6,258.30) scale(0.85,1)" font-size="8" fill="#222" text-anchor="middle">1</text>
<line x1="369.8" y1="285.50" x2="372.3" y2="285.50" stroke="#444" stroke-width="0.8"/>
<text transform="translate(382.6,288.30) scale(0.85,1)" font-size="8" fill="#222" text-anchor="middle">0.9</text>
<line x1="369.8" y1="315.50" x2="372.3" y2="315.50" stroke="#444" stroke-width="0.8"/>
<text transform="translate(382.6,318.30) scale(0.85,1)" font-size="8" fill="#222" text-anchor="middle">0.8</text>
<line x1="369.8" y1="345.50" x2="372.3" y2="345.50" stroke="#444" stroke-width="0.8"/>
<text transform="translate(382.6,348.30) scale(0.85,1)" font-size="8" fill="#222" text-anchor="middle">0.7</text>
<line x1="369.8" y1="375.50" x2="372.3" y2="375.50" stroke="#444" stroke-width="0.8"/>
<text transform="translate(382.6,378.30) scale(0.85,1)" font-size="8" fill="#222" text-anchor="middle">0.6</text>
<line x1="369.8" y1="405.50" x2="372.3" y2="405.50" stroke="#444" stroke-width="0.8"/>
<text transform="translate(382.6,408.30) scale(0.85,1)" font-size="8" fill="#222" text-anchor="middle">0.5</text>
<line x1="369.8" y1="435.50" x2="372.3" y2="435.50" stroke="#444" stroke-width="0.8"/>
<text transform="translate(382.6,438.30) scale(0.85,1)" font-size="8" fill="#222" text-anchor="middle">0.4</text>
<line x1="369.8" y1="465.50" x2="372.3" y2="465.50" stroke="#444" stroke-width="0.8"/>
<text transform="translate(382.6,468.30) scale(0.85,1)" font-size="8" fill="#222" text-anchor="middle">0.3</text>
<line x1="369.8" y1="495.50" x2="372.3" y2="495.50" stroke="#444" stroke-width="0.8"/>
<text transform="translate(382.6,498.30) scale(0.85,1)" font-size="8" fill="#222" text-anchor="middle">0.2</text>
<line x1="369.8" y1="525.50" x2="372.3" y2="525.50" stroke="#444" stroke-width="0.8"/>
<text transform="translate(382.6,528.30) scale(0.85,1)" font-size="8" fill="#222" text-anchor="middle">0.1</text>
<line x1="369.8" y1="555.50" x2="372.3" y2="555.50" stroke="#444" stroke-width="0.8"/>
<text transform="translate(382.6,558.30) scale(0.85,1)" font-size="8" fill="#222" text-anchor="middle">0</text>
<text x="396.9" y="246.7" font-size="24" fill="#000">c</text>
<rect x="438.5" y="285.8" width="307.0" height="211.09999999999997" fill="#fff"/>
<line x1="477.23" y1="285.8" x2="477.23" y2="496.9" stroke="#f2f2f2" stroke-width="0.5"/>
<line x1="560.08" y1="285.8" x2="560.08" y2="496.9" stroke="#f2f2f2" stroke-width="0.5"/>
<line x1="642.92" y1="285.8" x2="642.92" y2="496.9" stroke="#f2f2f2" stroke-width="0.5"/>
<line x1="725.77" y1="285.8" x2="725.77" y2="496.9" stroke="#f2f2f2" stroke-width="0.5"/>
<line x1="438.5" y1="495.50" x2="745.5" y2="495.50" stroke="#f2f2f2" stroke-width="0.5"/>
<line x1="438.5" y1="451.30" x2="745.5" y2="451.30" stroke="#f2f2f2" stroke-width="0.5"/>
<line x1="438.5" y1="407.10" x2="745.5" y2="407.10" stroke="#f2f2f2" stroke-width="0.5"/>
<line x1="438.5" y1="362.90" x2="745.5" y2="362.90" stroke="#f2f2f2" stroke-width="0.5"/>
<line x1="438.5" y1="318.70" x2="745.5" y2="318.70" stroke="#f2f2f2" stroke-width="0.5"/>
<line x1="518.65" y1="285.8" x2="518.65" y2="496.9" stroke="#ebebeb" stroke-width="0.8"/>
<line x1="601.50" y1="285.8" x2="601.50" y2="496.9" stroke="#ebebeb" stroke-width="0.8"/>
<line x1="684.35" y1="285.8" x2="684.35" y2="496.9" stroke="#ebebeb" stroke-width="0.8"/>
<line x1="438.5" y1="473.40" x2="745.5" y2="473.40" stroke="#ebebeb" stroke-width="0.8"/>
<line x1="438.5" y1="429.20" x2="745.5" y2="429.20" stroke="#ebebeb" stroke-width="0.8"/>
<line x1="438.5" y1="385.00" x2="745.5" y2="385.00" stroke="#ebebeb" stroke-width="0.8"/>
<line x1="438.5" y1="340.80" x2="745.5" y2="340.80" stroke="#ebebeb" stroke-width="0.8"/>
<line x1="438.5" y1="296.60" x2="745.5" y2="296.60" stroke="#ebebeb" stroke-width="0.8"/>
<rect x="438.5" y="285.8" width="307.0" height="211.09999999999997" fill="none" stroke="#666" stroke-width="0.9"/>
<line x1="436.5" y1="473.40" x2="438.5" y2="473.40" stroke="#555" stroke-width="0.7"/>
<text x="435.7" y="475.40" font-size="5.6" fill="#444" text-anchor="end">-100</text>
<line x1="436.5" y1="429.20" x2="438.5" y2="429.20" stroke="#555" stroke-width="0.7"/>
<text x="435.7" y="431.20" font-size="5.6" fill="#444" text-anchor="end">-50</text>
<line x1="436.5" y1="385.00" x2="438.5" y2="385.00" stroke="#555" stroke-width="0.7"/>
<text x="435.7" y="387.00" font-size="5.6" fill="#444" text-anchor="end">0</text>
<line x1="436.5" y1="340.80" x2="438.5" y2="340.80" stroke="#555" stroke-width="0.7"/>
<text x="435.7" y="342.80" font-size="5.6" fill="#444" text-anchor="end">50</text>
<line x1="436.5" y1="296.60" x2="438.5" y2="296.60" stroke="#555" stroke-width="0.7"/>
<text x="435.7" y="298.60" font-size="5.6" fill="#444" text-anchor="end">100</text>
<line x1="518.65" y1="496.9" x2="518.65" y2="498.9" stroke="#555" stroke-width="0.7"/>
<text x="518.65" y="504.40" font-size="5.6" fill="#444" text-anchor="middle">-100</text>
<line x1="601.50" y1="496.9" x2="601.50" y2="498.9" stroke="#555" stroke-width="0.7"/>
<text x="601.50" y="504.40" font-size="5.6" fill="#444" text-anchor="middle">0</text>
<line x1="684.35" y1="496.9" x2="684.35" y2="498.9" stroke="#555" stroke-width="0.7"/>
<text x="684.35" y="504.40" font-size="5.6" fill="#444" text-anchor="middle">100</text>
<text x="591.70" y="510.5" font-size="6.3" fill="#222" text-anchor="middle">PC1 (48.02%)</text>
<text transform="translate(422.6,392.6) rotate(-90)" font-size="6.6" fill="#222" text-anchor="middle">PC2 (14.48%)</text>
<line x1="652.2" y1="316" x2="676.8" y2="295.7" stroke="#7F77C4" stroke-width="0.5"/>
<circle cx="481.60" cy="366.40" r="2.7" fill="#3BAF77" fill-opacity="0.6" stroke="#3BAF77" stroke-width="0.6"/>
<path d="M480.00,366.40 h3.2 M481.60,364.80 v3.2" stroke="#3BAF77" stroke-width="0.4" opacity="0.8"/>
<circle cx="484.90" cy="370.00" r="2.7" fill="#3BAF77" fill-opacity="0.6" stroke="#3BAF77" stroke-width="0.6"/>
<path d="M483.30,370.00 h3.2 M484.90,368.40 v3.2" stroke="#3BAF77" stroke-width="0.4" opacity="0.8"/>
<circle cx="484.10" cy="368.20" r="2.7" fill="#3BAF77" fill-opacity="0.6" stroke="#3BAF77" stroke-width="0.6"/>
<path d="M482.50,368.20 h3.2 M484.10,366.60 v3.2" stroke="#3BAF77" stroke-width="0.4" opacity="0.8"/>
<text x="472.10" y="360.60" font-size="5.1" font-weight="bold" fill="#3BAF77" text-anchor="middle">F1-3</text>
<text x="472.80" y="378.10" font-size="5.1" font-weight="bold" fill="#3BAF77" text-anchor="middle">F1-2</text>
<text x="495.30" y="378.10" font-size="5.1" font-weight="bold" fill="#3BAF77" text-anchor="middle">F1-1</text>
<circle cx="500.60" cy="424.80" r="2.7" fill="#DE7A34" fill-opacity="0.6" stroke="#DE7A34" stroke-width="0.6"/>
<path d="M499.00,424.80 h3.2 M500.60,423.20 v3.2" stroke="#DE7A34" stroke-width="0.4" opacity="0.8"/>
<circle cx="503.10" cy="425.70" r="2.7" fill="#DE7A34" fill-opacity="0.6" stroke="#DE7A34" stroke-width="0.6"/>
<path d="M501.50,425.70 h3.2 M503.10,424.10 v3.2" stroke="#DE7A34" stroke-width="0.4" opacity="0.8"/>
<circle cx="502.20" cy="423.90" r="2.7" fill="#DE7A34" fill-opacity="0.6" stroke="#DE7A34" stroke-width="0.6"/>
<path d="M500.60,423.90 h3.2 M502.20,422.30 v3.2" stroke="#DE7A34" stroke-width="0.4" opacity="0.8"/>
<text x="491.50" y="418.70" font-size="5.1" font-weight="bold" fill="#DE7A34" text-anchor="middle">F2-3</text>
<text x="489.50" y="435.50" font-size="5.1" font-weight="bold" fill="#DE7A34" text-anchor="middle">F2-2</text>
<text x="514.60" y="435.50" font-size="5.1" font-weight="bold" fill="#DE7A34" text-anchor="middle">F2-1</text>
<circle cx="649.80" cy="316.90" r="2.7" fill="#7F77C4" fill-opacity="0.6" stroke="#7F77C4" stroke-width="0.6"/>
<path d="M648.20,316.90 h3.2 M649.80,315.30 v3.2" stroke="#7F77C4" stroke-width="0.4" opacity="0.8"/>
<circle cx="652.20" cy="316.00" r="2.7" fill="#7F77C4" fill-opacity="0.6" stroke="#7F77C4" stroke-width="0.6"/>
<path d="M650.60,316.00 h3.2 M652.20,314.40 v3.2" stroke="#7F77C4" stroke-width="0.4" opacity="0.8"/>
<circle cx="651.40" cy="316.90" r="2.7" fill="#7F77C4" fill-opacity="0.6" stroke="#7F77C4" stroke-width="0.6"/>
<path d="M649.80,316.90 h3.2 M651.40,315.30 v3.2" stroke="#7F77C4" stroke-width="0.4" opacity="0.8"/>
<text x="681.80" y="297.60" font-size="5.1" font-weight="bold" fill="#7F77C4" text-anchor="middle">F3-1</text>
<text x="660.60" y="310.90" font-size="5.1" font-weight="bold" fill="#7F77C4" text-anchor="middle">F3-2</text>
<text x="640.20" y="325.90" font-size="5.1" font-weight="bold" fill="#7F77C4" text-anchor="middle">F3-3</text>
<circle cx="672.20" cy="350.50" r="2.7" fill="#E3388E" fill-opacity="0.6" stroke="#E3388E" stroke-width="0.6"/>
<path d="M670.60,350.50 h3.2 M672.20,348.90 v3.2" stroke="#E3388E" stroke-width="0.4" opacity="0.8"/>
<circle cx="673.90" cy="350.50" r="2.7" fill="#E3388E" fill-opacity="0.6" stroke="#E3388E" stroke-width="0.6"/>
<path d="M672.30,350.50 h3.2 M673.90,348.90 v3.2" stroke="#E3388E" stroke-width="0.4" opacity="0.8"/>
<circle cx="673.10" cy="351.40" r="2.7" fill="#E3388E" fill-opacity="0.6" stroke="#E3388E" stroke-width="0.6"/>
<path d="M671.50,351.40 h3.2 M673.10,349.80 v3.2" stroke="#E3388E" stroke-width="0.4" opacity="0.8"/>
<text x="662.20" y="345.40" font-size="5.1" font-weight="bold" fill="#E3388E" text-anchor="middle">F4-1</text>
<text x="662.20" y="360.40" font-size="5.1" font-weight="bold" fill="#E3388E" text-anchor="middle">F4-3</text>
<text x="684.30" y="360.40" font-size="5.1" font-weight="bold" fill="#E3388E" text-anchor="middle">F4-2</text>
<circle cx="699.90" cy="462.50" r="2.7" fill="#4A8CC8" fill-opacity="0.6" stroke="#4A8CC8" stroke-width="0.6"/>
<path d="M698.30,462.50 h3.2 M699.90,460.90 v3.2" stroke="#4A8CC8" stroke-width="0.4" opacity="0.8"/>
<circle cx="701.40" cy="467.00" r="2.7" fill="#4A8CC8" fill-opacity="0.6" stroke="#4A8CC8" stroke-width="0.6"/>
<path d="M699.80,467.00 h3.2 M701.40,465.40 v3.2" stroke="#4A8CC8" stroke-width="0.4" opacity="0.8"/>
<circle cx="700.60" cy="464.50" r="2.7" fill="#4A8CC8" fill-opacity="0.6" stroke="#4A8CC8" stroke-width="0.6"/>
<path d="M699.00,464.50 h3.2 M700.60,462.90 v3.2" stroke="#4A8CC8" stroke-width="0.4" opacity="0.8"/>
<text x="689.40" y="457.60" font-size="5.1" font-weight="bold" fill="#4A8CC8" text-anchor="middle">F5-3</text>
<text x="711.10" y="457.60" font-size="5.1" font-weight="bold" fill="#4A8CC8" text-anchor="middle">F5-1</text>
<text x="711.90" y="475.30" font-size="5.1" font-weight="bold" fill="#4A8CC8" text-anchor="middle">F5-2</text>
<text x="754.6" y="367.6" font-size="6.6" fill="#222">Group</text>
<circle cx="759.5" cy="376.60" r="2.7" fill="#3BAF77" fill-opacity="0.75" stroke="#3BAF77" stroke-opacity="0.5" stroke-width="0.6"/>
<path d="M758,376.60 h3 M759.5,375.10 v3" stroke="#3BAF77" stroke-width="0.4"/>
<text x="767.2" y="378.60" font-size="5.6" font-weight="bold" fill="#333">F1</text>
<circle cx="759.5" cy="386.35" r="2.7" fill="#DE7A34" fill-opacity="0.75" stroke="#DE7A34" stroke-opacity="0.5" stroke-width="0.6"/>
<path d="M758,386.35 h3 M759.5,384.85 v3" stroke="#DE7A34" stroke-width="0.4"/>
<text x="767.2" y="388.35" font-size="5.6" font-weight="bold" fill="#333">F2</text>
<circle cx="759.5" cy="396.10" r="2.7" fill="#7F77C4" fill-opacity="0.75" stroke="#7F77C4" stroke-opacity="0.5" stroke-width="0.6"/>
<path d="M758,396.10 h3 M759.5,394.60 v3" stroke="#7F77C4" stroke-width="0.4"/>
<text x="767.2" y="398.10" font-size="5.6" font-weight="bold" fill="#333">F3</text>
<circle cx="759.5" cy="405.85" r="2.7" fill="#E3388E" fill-opacity="0.75" stroke="#E3388E" stroke-opacity="0.5" stroke-width="0.6"/>
<path d="M758,405.85 h3 M759.5,404.35 v3" stroke="#E3388E" stroke-width="0.4"/>
<text x="767.2" y="407.85" font-size="5.6" font-weight="bold" fill="#333">F4</text>
<circle cx="759.5" cy="415.60" r="2.7" fill="#4A8CC8" fill-opacity="0.75" stroke="#4A8CC8" stroke-opacity="0.5" stroke-width="0.6"/>
<path d="M758,415.60 h3 M759.5,414.10 v3" stroke="#4A8CC8" stroke-width="0.4"/>
<text x="767.2" y="417.60" font-size="5.6" font-weight="bold" fill="#333">F5</text>
<text x="2.3" y="584" font-size="24" fill="#000">d</text>
<rect x="52.5" y="569.0" width="318.9" height="248.5" fill="#ebebeb"/>
<line x1="52.5" y1="796.95" x2="371.4" y2="796.95" stroke="#f5f5f5" stroke-width="0.5"/>
<line x1="52.5" y1="732.45" x2="371.4" y2="732.45" stroke="#f5f5f5" stroke-width="0.5"/>
<line x1="52.5" y1="667.95" x2="371.4" y2="667.95" stroke="#f5f5f5" stroke-width="0.5"/>
<line x1="52.5" y1="603.45" x2="371.4" y2="603.45" stroke="#f5f5f5" stroke-width="0.5"/>
<line x1="52.5" y1="764.70" x2="371.4" y2="764.70" stroke="#fff" stroke-width="1"/>
<line x1="52.5" y1="700.20" x2="371.4" y2="700.20" stroke="#fff" stroke-width="1"/>
<line x1="52.5" y1="635.70" x2="371.4" y2="635.70" stroke="#fff" stroke-width="1"/>
<line x1="52.5" y1="571.20" x2="371.4" y2="571.20" stroke="#fff" stroke-width="1"/>
<line x1="71.90" y1="569.0" x2="71.90" y2="817.5" stroke="#fff" stroke-width="1"/>
<line x1="103.10" y1="569.0" x2="103.10" y2="817.5" stroke="#fff" stroke-width="1"/>
<line x1="134.30" y1="569.0" x2="134.30" y2="817.5" stroke="#fff" stroke-width="1"/>
<line x1="165.50" y1="569.0" x2="165.50" y2="817.5" stroke="#fff" stroke-width="1"/>
<line x1="196.70" y1="569.0" x2="196.70" y2="817.5" stroke="#fff" stroke-width="1"/>
<line x1="227.90" y1="569.0" x2="227.90" y2="817.5" stroke="#fff" stroke-width="1"/>
<line x1="259.10" y1="569.0" x2="259.10" y2="817.5" stroke="#fff" stroke-width="1"/>
<line x1="290.30" y1="569.0" x2="290.30" y2="817.5" stroke="#fff" stroke-width="1"/>
<line x1="321.50" y1="569.0" x2="321.50" y2="817.5" stroke="#fff" stroke-width="1"/>
<line x1="352.70" y1="569.0" x2="352.70" y2="817.5" stroke="#fff" stroke-width="1"/>
<rect x="64.10" y="676.88" width="15.6" height="23.32" fill="#5CD0C6"/>
<rect x="64.10" y="700.20" width="15.6" height="14.16" fill="#EC6E6C"/>
<text transform="translate(71.90,675.58) scale(0.79,1)" font-size="7.7" fill="#222" text-anchor="middle">904</text>
<text transform="translate(71.90,720.46) scale(0.79,1)" font-size="7.7" fill="#222" text-anchor="middle">549</text>
<line x1="71.90" y1="817.5" x2="71.90" y2="819.5" stroke="#444" stroke-width="0.6"/>
<text transform="translate(70.40,826.10) scale(0.85,1)" font-size="5.9" fill="#444" text-anchor="middle">F1 vs. F2</text>
<rect x="95.30" y="601.41" width="15.6" height="98.79" fill="#5CD0C6"/>
<rect x="95.30" y="700.20" width="15.6" height="73.09" fill="#EC6E6C"/>
<text transform="translate(103.10,600.11) scale(0.79,1)" font-size="7.7" fill="#222" text-anchor="middle">3829</text>
<text transform="translate(103.10,779.39) scale(0.79,1)" font-size="7.7" fill="#222" text-anchor="middle">2833</text>
<line x1="103.10" y1="817.5" x2="103.10" y2="819.5" stroke="#444" stroke-width="0.6"/>
<text transform="translate(101.60,826.10) scale(0.85,1)" font-size="5.9" fill="#444" text-anchor="middle">F1 vs. F3</text>
<rect x="126.50" y="591.25" width="15.6" height="108.95" fill="#5CD0C6"/>
<rect x="126.50" y="700.20" width="15.6" height="83.02" fill="#EC6E6C"/>
<text transform="translate(134.30,589.95) scale(0.79,1)" font-size="7.7" fill="#222" text-anchor="middle">4223</text>
<text transform="translate(134.30,789.32) scale(0.79,1)" font-size="7.7" fill="#222" text-anchor="middle">3218</text>
<line x1="134.30" y1="817.5" x2="134.30" y2="819.5" stroke="#444" stroke-width="0.6"/>
<text transform="translate(132.80,826.10) scale(0.85,1)" font-size="5.9" fill="#444" text-anchor="middle">F1 vs. F4</text>
<rect x="157.70" y="580.54" width="15.6" height="119.66" fill="#5CD0C6"/>
<rect x="157.70" y="700.20" width="15.6" height="106.89" fill="#EC6E6C"/>
<text transform="translate(165.50,579.24) scale(0.79,1)" font-size="7.7" fill="#222" text-anchor="middle">4638</text>
<text transform="translate(165.50,813.19) scale(0.79,1)" font-size="7.7" fill="#222" text-anchor="middle">4143</text>
<line x1="165.50" y1="817.5" x2="165.50" y2="819.5" stroke="#444" stroke-width="0.6"/>
<text transform="translate(164.00,826.10) scale(0.85,1)" font-size="5.9" fill="#444" text-anchor="middle">F1 vs. F5</text>
<rect x="188.90" y="605.90" width="15.6" height="94.30" fill="#5CD0C6"/>
<rect x="188.90" y="700.20" width="15.6" height="70.15" fill="#EC6E6C"/>
<text transform="translate(196.70,604.60) scale(0.79,1)" font-size="7.7" fill="#222" text-anchor="middle">3655</text>
<text transform="translate(196.70,776.45) scale(0.79,1)" font-size="7.7" fill="#222" text-anchor="middle">2719</text>
<line x1="196.70" y1="817.5" x2="196.70" y2="819.5" stroke="#444" stroke-width="0.6"/>
<text transform="translate(195.20,826.10) scale(0.85,1)" font-size="5.9" fill="#444" text-anchor="middle">F2 vs. F3</text>
<rect x="220.10" y="593.47" width="15.6" height="106.73" fill="#5CD0C6"/>
<rect x="220.10" y="700.20" width="15.6" height="79.13" fill="#EC6E6C"/>
<text transform="translate(227.90,592.17) scale(0.79,1)" font-size="7.7" fill="#222" text-anchor="middle">4137</text>
<text transform="translate(227.90,785.43) scale(0.79,1)" font-size="7.7" fill="#222" text-anchor="middle">3067</text>
<line x1="227.90" y1="817.5" x2="227.90" y2="819.5" stroke="#444" stroke-width="0.6"/>
<text transform="translate(226.40,826.10) scale(0.85,1)" font-size="5.9" fill="#444" text-anchor="middle">F2 vs. F4</text>
<rect x="251.30" y="586.96" width="15.6" height="113.24" fill="#5CD0C6"/>
<rect x="251.30" y="700.20" width="15.6" height="101.34" fill="#EC6E6C"/>
<text transform="translate(259.10,585.66) scale(0.79,1)" font-size="7.7" fill="#222" text-anchor="middle">4389</text>
<text transform="translate(259.10,807.64) scale(0.79,1)" font-size="7.7" fill="#222" text-anchor="middle">3928</text>
<line x1="259.10" y1="817.5" x2="259.10" y2="819.5" stroke="#444" stroke-width="0.6"/>
<text transform="translate(257.60,826.10) scale(0.85,1)" font-size="5.9" fill="#444" text-anchor="middle">F2 vs. F5</text>
<rect x="282.50" y="679.95" width="15.6" height="20.25" fill="#5CD0C6"/>
<rect x="282.50" y="700.20" width="15.6" height="10.97" fill="#EC6E6C"/>
<text transform="translate(290.30,678.65) scale(0.79,1)" font-size="7.7" fill="#222" text-anchor="middle">785</text>
<text transform="translate(290.30,717.27) scale(0.79,1)" font-size="7.7" fill="#222" text-anchor="middle">425</text>
<line x1="290.30" y1="817.5" x2="290.30" y2="819.5" stroke="#444" stroke-width="0.6"/>
<text transform="translate(288.80,826.10) scale(0.85,1)" font-size="5.9" fill="#444" text-anchor="middle">F3 vs. F4</text>
<rect x="313.70" y="655.98" width="15.6" height="44.22" fill="#5CD0C6"/>
<rect x="313.70" y="700.20" width="15.6" height="48.09" fill="#EC6E6C"/>
<text transform="translate(321.50,654.68) scale(0.79,1)" font-size="7.7" fill="#222" text-anchor="middle">1714</text>
<text transform="translate(321.50,754.39) scale(0.79,1)" font-size="7.7" fill="#222" text-anchor="middle">1864</text>
<line x1="321.50" y1="817.5" x2="321.50" y2="819.5" stroke="#444" stroke-width="0.6"/>
<text transform="translate(320.00,826.10) scale(0.85,1)" font-size="5.9" fill="#444" text-anchor="middle">F3 vs. F5</text>
<rect x="344.90" y="669.91" width="15.6" height="30.29" fill="#5CD0C6"/>
<rect x="344.90" y="700.20" width="15.6" height="38.44" fill="#EC6E6C"/>
<text transform="translate(352.70,668.61) scale(0.79,1)" font-size="7.7" fill="#222" text-anchor="middle">1174</text>
<text transform="translate(352.70,744.74) scale(0.79,1)" font-size="7.7" fill="#222" text-anchor="middle">1490</text>
<line x1="352.70" y1="817.5" x2="352.70" y2="819.5" stroke="#444" stroke-width="0.6"/>
<text transform="translate(351.20,826.10) scale(0.85,1)" font-size="5.9" fill="#444" text-anchor="middle">F4 vs. F5</text>
<line x1="50.0" y1="571.20" x2="52.5" y2="571.20" stroke="#444" stroke-width="0.6"/>
<text transform="translate(47.50,573.20) scale(0.86,1)" font-size="5.9" fill="#444" text-anchor="end">5000</text>
<line x1="50.0" y1="635.70" x2="52.5" y2="635.70" stroke="#444" stroke-width="0.6"/>
<text transform="translate(47.50,637.70) scale(0.86,1)" font-size="5.9" fill="#444" text-anchor="end">2500</text>
<line x1="50.0" y1="700.20" x2="52.5" y2="700.20" stroke="#444" stroke-width="0.6"/>
<text transform="translate(47.50,702.20) scale(0.86,1)" font-size="5.9" fill="#444" text-anchor="end">0</text>
<line x1="50.0" y1="764.70" x2="52.5" y2="764.70" stroke="#444" stroke-width="0.6"/>
<text transform="translate(47.50,766.70) scale(0.86,1)" font-size="5.9" fill="#444" text-anchor="end">-2500</text>
<text transform="translate(211.95,836.50) scale(0.85,1)" font-size="7" fill="#222" text-anchor="middle">Groups</text>
<text transform="translate(34.00,695.70) rotate(-90) scale(0.85,1)" font-size="7" fill="#222" text-anchor="middle">Number of DEGs</text>
<text transform="translate(382.20,683.20) scale(0.88,1)" font-size="7" fill="#222" text-anchor="start">DEGs</text>
<rect x="382.6" y="688.2" width="10.8" height="10.6" fill="#EC6E6C" stroke="#f0d8d8" stroke-width="0.4"/>
<rect x="382.6" y="699.6" width="10.8" height="10.6" fill="#5CD0C6" stroke="#d8f0ee" stroke-width="0.4"/>
<text transform="translate(397.20,695.60) scale(0.88,1)" font-size="5.9" fill="#222" text-anchor="start">down</text>
<text transform="translate(397.20,706.80) scale(0.88,1)" font-size="5.9" fill="#222" text-anchor="start">up</text>
<text x="396.1" y="584.5" font-size="24" fill="#000">e</text>
<defs>
<clipPath id="veO"><ellipse cx="642.65" cy="716.26" rx="112.70" ry="64.40" transform="rotate(-45 642.65 716.26)"/></clipPath>
<clipPath id="veB"><ellipse cx="546.05" cy="716.26" rx="112.70" ry="64.40" transform="rotate(-135 546.05 716.26)"/></clipPath>
<clipPath id="veP"><ellipse cx="594.35" cy="684.06" rx="106.26" ry="48.30" transform="rotate(-45 594.35 684.06)"/></clipPath>
<clipPath id="veG"><ellipse cx="594.35" cy="684.06" rx="112.70" ry="48.30" transform="rotate(-135 594.35 684.06)"/></clipPath>
</defs>
<g clip-path="url(#veB)"><rect x="420" y="560" width="380" height="280" fill="rgb(120,185,250)"/></g>
<g clip-path="url(#veG)"><rect x="420" y="560" width="380" height="280" fill="rgb(143,240,176)"/></g>
<g clip-path="url(#veP)"><rect x="420" y="560" width="380" height="280" fill="rgb(216,142,224)"/></g>
<g clip-path="url(#veO)"><rect x="420" y="560" width="380" height="280" fill="rgb(237,160,80)"/></g>
<g clip-path="url(#veG)"><g clip-path="url(#veB)"><rect x="420" y="560" width="380" height="280" fill="rgb(110,215,180)"/></g></g>
<g clip-path="url(#veP)"><g clip-path="url(#veG)"><rect x="420" y="560" width="380" height="280" fill="rgb(128,198,155)"/></g></g>
<g clip-path="url(#veO)"><g clip-path="url(#veP)"><rect x="420" y="560" width="380" height="280" fill="rgb(213,110,163)"/></g></g>
<g clip-path="url(#veP)"><g clip-path="url(#veB)"><rect x="420" y="560" width="380" height="280" fill="rgb(172,128,228)"/></g></g>
<g clip-path="url(#veO)"><g clip-path="url(#veG)"><rect x="420" y="560" width="380" height="280" fill="rgb(140,207,112)"/></g></g>
<g clip-path="url(#veO)"><g clip-path="url(#veB)"><rect x="420" y="560" width="380" height="280" fill="rgb(110,158,205)"/></g></g>
<g clip-path="url(#veP)"><g clip-path="url(#veG)"><g clip-path="url(#veB)"><rect x="420" y="560" width="380" height="280" fill="rgb(112,185,150)"/></g></g></g>
<g clip-path="url(#veO)"><g clip-path="url(#veP)"><g clip-path="url(#veG)"><rect x="420" y="560" width="380" height="280" fill="rgb(128,185,135)"/></g></g></g>
<g clip-path="url(#veO)"><g clip-path="url(#veP)"><g clip-path="url(#veB)"><rect x="420" y="560" width="380" height="280" fill="rgb(170,110,205)"/></g></g></g>
<g clip-path="url(#veO)"><g clip-path="url(#veG)"><g clip-path="url(#veB)"><rect x="420" y="560" width="380" height="280" fill="rgb(105,205,160)"/></g></g></g>
<g clip-path="url(#veO)"><g clip-path="url(#veP)"><g clip-path="url(#veG)"><g clip-path="url(#veB)"><rect x="420" y="560" width="380" height="280" fill="rgb(115,190,150)"/></g></g></g></g>
<ellipse cx="642.65" cy="716.26" rx="112.70" ry="64.40" transform="rotate(-45 642.65 716.26)" fill="none" stroke="#111" stroke-width="1"/>
<ellipse cx="546.05" cy="716.26" rx="112.70" ry="64.40" transform="rotate(-135 546.05 716.26)" fill="none" stroke="#111" stroke-width="1"/>
<ellipse cx="594.35" cy="684.06" rx="106.26" ry="48.30" transform="rotate(-45 594.35 684.06)" fill="none" stroke="#111" stroke-width="1"/>
<ellipse cx="594.35" cy="684.06" rx="112.70" ry="48.30" transform="rotate(-135 594.35 684.06)" fill="none" stroke="#111" stroke-width="1"/>
<text x="491.5" y="686" font-size="10.8" fill="#333" text-anchor="middle">350</text>
<text x="546.5" y="623.8" font-size="10.8" fill="#333" text-anchor="middle">424</text>
<text x="642.5" y="624.2" font-size="10.8" fill="#333" text-anchor="middle">1830</text>
<text x="698" y="686" font-size="10.8" fill="#333" text-anchor="middle">370</text>
<text x="533.5" y="656" font-size="10.8" fill="#333" text-anchor="middle">30</text>
<text x="594.8" y="649.8" font-size="10.8" fill="#333" text-anchor="middle">959</text>
<text x="656" y="655.5" font-size="10.8" fill="#333" text-anchor="middle">293</text>
<text x="562.5" y="686" font-size="10.8" fill="#333" text-anchor="middle">121</text>
<text x="626.6" y="686" font-size="10.8" fill="#333" text-anchor="middle">4720</text>
<text x="594.5" y="720.5" font-size="10.8" fill="#333" text-anchor="middle">633</text>
<text x="536" y="737" font-size="10.8" fill="#333" text-anchor="middle">171</text>
<text x="652" y="737" font-size="10.8" fill="#333" text-anchor="middle">498</text>
<text x="570" y="749.5" font-size="10.8" fill="#333" text-anchor="middle">54</text>
<text x="618.5" y="749.5" font-size="10.8" fill="#333" text-anchor="middle">56</text>
<text x="594.5" y="782" font-size="10.8" fill="#333" text-anchor="middle">38</text>
<text x="491" y="604" font-size="6.9" fill="#4A9CF0" stroke="#4A9CF0" stroke-width="0.15" text-anchor="middle">F1_vs_F2</text>
<text x="546" y="591" font-size="6.9" fill="#4ED07A" stroke="#4ED07A" stroke-width="0.15" text-anchor="middle">F1_vs_F4</text>
<text x="643" y="591" font-size="6.9" fill="#C454D4" stroke="#C454D4" stroke-width="0.15" text-anchor="middle">F1_vs_F5</text>
<text x="698" y="604" font-size="6.9" fill="#E88A30" stroke="#E88A30" stroke-width="0.15" text-anchor="middle">F1_vs_F3</text>
</svg></body></html>
